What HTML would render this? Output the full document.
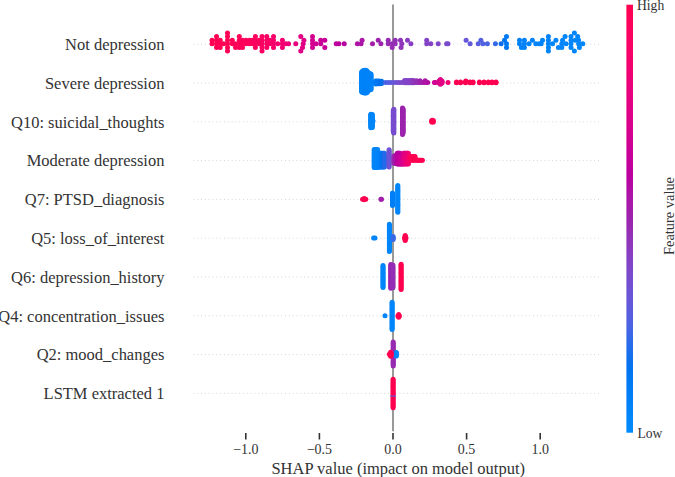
<!DOCTYPE html>
<html><head><meta charset="utf-8"><style>
html,body{margin:0;padding:0;background:#fff;}
svg{display:block;}
text{font-family:"Liberation Serif",serif;fill:#333;}
</style></head><body>
<svg width="675" height="477" viewBox="0 0 675 477">
<defs><linearGradient id="cb" x1="0" y1="0" x2="0" y2="1"><stop offset="0.00" stop-color="#ff0051"/><stop offset="0.05" stop-color="#fe005c"/><stop offset="0.10" stop-color="#f90067"/><stop offset="0.15" stop-color="#f20072"/><stop offset="0.20" stop-color="#e9007c"/><stop offset="0.25" stop-color="#e00086"/><stop offset="0.30" stop-color="#d5008f"/><stop offset="0.35" stop-color="#c80098"/><stop offset="0.40" stop-color="#bb00a0"/><stop offset="0.45" stop-color="#ab15a7"/><stop offset="0.50" stop-color="#9b23ad"/><stop offset="0.55" stop-color="#9135ba"/><stop offset="0.60" stop-color="#8443c6"/><stop offset="0.65" stop-color="#754fd1"/><stop offset="0.70" stop-color="#6359da"/><stop offset="0.75" stop-color="#4b63e3"/><stop offset="0.80" stop-color="#236cea"/><stop offset="0.85" stop-color="#0074f0"/><stop offset="0.90" stop-color="#007cf5"/><stop offset="0.95" stop-color="#0084f9"/><stop offset="1.00" stop-color="#008bfb"/></linearGradient></defs>
<g><line x1="193.45" y1="44.2" x2="599" y2="44.2" stroke="#cccccc" stroke-width="0.9" stroke-dasharray="0.9,2.916"/><line x1="193.45" y1="83.0" x2="599" y2="83.0" stroke="#cccccc" stroke-width="0.9" stroke-dasharray="0.9,2.916"/><line x1="193.45" y1="121.8" x2="599" y2="121.8" stroke="#cccccc" stroke-width="0.9" stroke-dasharray="0.9,2.916"/><line x1="193.45" y1="160.6" x2="599" y2="160.6" stroke="#cccccc" stroke-width="0.9" stroke-dasharray="0.9,2.916"/><line x1="193.45" y1="199.4" x2="599" y2="199.4" stroke="#cccccc" stroke-width="0.9" stroke-dasharray="0.9,2.916"/><line x1="193.45" y1="238.2" x2="599" y2="238.2" stroke="#cccccc" stroke-width="0.9" stroke-dasharray="0.9,2.916"/><line x1="193.45" y1="277.0" x2="599" y2="277.0" stroke="#cccccc" stroke-width="0.9" stroke-dasharray="0.9,2.916"/><line x1="193.45" y1="315.8" x2="599" y2="315.8" stroke="#cccccc" stroke-width="0.9" stroke-dasharray="0.9,2.916"/><line x1="193.45" y1="354.6" x2="599" y2="354.6" stroke="#cccccc" stroke-width="0.9" stroke-dasharray="0.9,2.916"/><line x1="193.45" y1="393.4" x2="599" y2="393.4" stroke="#cccccc" stroke-width="0.9" stroke-dasharray="0.9,2.916"/></g>
<line x1="393" y1="4.4" x2="393" y2="431.3" stroke="#999999" stroke-width="2"/>
<g>
<circle cx="212.0" cy="40.2" r="2.5" fill="#ff0052"/>
<circle cx="212.0" cy="43.8" r="2.5" fill="#ff0052"/>
<circle cx="216.5" cy="36.6" r="2.5" fill="#ff0053"/>
<circle cx="216.5" cy="40.2" r="2.5" fill="#ff0053"/>
<circle cx="216.5" cy="43.8" r="2.5" fill="#ff0053"/>
<circle cx="216.5" cy="47.4" r="2.5" fill="#ff0053"/>
<circle cx="220.2" cy="40.2" r="2.5" fill="#ff0053"/>
<circle cx="220.2" cy="43.8" r="2.5" fill="#ff0053"/>
<circle cx="220.2" cy="47.4" r="2.5" fill="#ff0053"/>
<circle cx="223.5" cy="43.8" r="2.5" fill="#ff0054"/>
<circle cx="227.5" cy="33.0" r="2.5" fill="#ff0055"/>
<circle cx="227.5" cy="36.6" r="2.5" fill="#ff0055"/>
<circle cx="227.5" cy="40.2" r="2.5" fill="#ff0055"/>
<circle cx="227.5" cy="43.8" r="2.5" fill="#ff0055"/>
<circle cx="227.5" cy="47.4" r="2.5" fill="#ff0055"/>
<circle cx="227.5" cy="51.0" r="2.5" fill="#ff0055"/>
<circle cx="232.3" cy="40.2" r="2.5" fill="#ff0056"/>
<circle cx="232.3" cy="43.8" r="2.5" fill="#ff0056"/>
<circle cx="235.5" cy="43.8" r="2.5" fill="#ff0057"/>
<circle cx="235.5" cy="47.4" r="2.5" fill="#ff0057"/>
<circle cx="239.3" cy="36.6" r="2.5" fill="#ff0058"/>
<circle cx="239.3" cy="40.2" r="2.5" fill="#ff0058"/>
<circle cx="239.3" cy="43.8" r="2.5" fill="#ff0058"/>
<circle cx="239.3" cy="47.4" r="2.5" fill="#ff0058"/>
<circle cx="242.5" cy="40.2" r="2.5" fill="#ff0059"/>
<circle cx="242.5" cy="43.8" r="2.5" fill="#ff0059"/>
<circle cx="242.5" cy="47.4" r="2.5" fill="#ff0059"/>
<circle cx="246.0" cy="40.2" r="2.5" fill="#ff005a"/>
<circle cx="246.0" cy="43.8" r="2.5" fill="#ff005a"/>
<circle cx="249.5" cy="40.2" r="2.5" fill="#fe005c"/>
<circle cx="249.5" cy="43.8" r="2.5" fill="#fe005c"/>
<circle cx="252.5" cy="40.2" r="2.5" fill="#fe005d"/>
<circle cx="252.5" cy="43.8" r="2.5" fill="#fe005d"/>
<circle cx="255.4" cy="36.6" r="2.5" fill="#fd005f"/>
<circle cx="255.4" cy="40.2" r="2.5" fill="#fd005f"/>
<circle cx="255.4" cy="43.8" r="2.5" fill="#fd005f"/>
<circle cx="255.4" cy="47.4" r="2.5" fill="#fd005f"/>
<circle cx="259.0" cy="40.2" r="2.5" fill="#fc0060"/>
<circle cx="259.0" cy="43.8" r="2.5" fill="#fc0060"/>
<circle cx="262.0" cy="36.6" r="2.5" fill="#fc0062"/>
<circle cx="262.0" cy="40.2" r="2.5" fill="#fc0062"/>
<circle cx="262.0" cy="43.8" r="2.5" fill="#fc0062"/>
<circle cx="262.0" cy="47.4" r="2.5" fill="#fc0062"/>
<circle cx="262.0" cy="51.0" r="2.5" fill="#fc0062"/>
<circle cx="266.8" cy="36.6" r="2.5" fill="#fa0064"/>
<circle cx="266.8" cy="40.2" r="2.5" fill="#fa0064"/>
<circle cx="266.8" cy="43.8" r="2.5" fill="#fa0064"/>
<circle cx="266.8" cy="47.4" r="2.5" fill="#fa0064"/>
<circle cx="270.0" cy="40.2" r="2.5" fill="#f90067"/>
<circle cx="270.0" cy="43.8" r="2.5" fill="#f90067"/>
<circle cx="273.5" cy="36.6" r="2.5" fill="#f7006a"/>
<circle cx="273.5" cy="40.2" r="2.5" fill="#f7006a"/>
<circle cx="273.5" cy="43.8" r="2.5" fill="#f7006a"/>
<circle cx="273.5" cy="47.4" r="2.5" fill="#f7006a"/>
<circle cx="277.7" cy="43.8" r="2.5" fill="#f4006e"/>
<circle cx="282.4" cy="40.2" r="2.5" fill="#f20072"/>
<circle cx="282.4" cy="43.8" r="2.5" fill="#f20072"/>
<circle cx="282.4" cy="47.4" r="2.5" fill="#f20072"/>
<circle cx="285.7" cy="43.8" r="2.5" fill="#f00074"/>
<circle cx="288.6" cy="43.8" r="2.5" fill="#ed0077"/>
<circle cx="295.8" cy="43.8" r="2.5" fill="#e7007e"/>
<circle cx="300.8" cy="36.6" r="2.5" fill="#e30083"/>
<circle cx="303.9" cy="40.2" r="2.5" fill="#df0086"/>
<circle cx="303.2" cy="43.8" r="2.5" fill="#e00086"/>
<circle cx="302.5" cy="47.4" r="2.5" fill="#e10085"/>
<circle cx="300.8" cy="51.0" r="2.5" fill="#e30083"/>
<circle cx="312.5" cy="36.6" r="2.5" fill="#d30090"/>
<circle cx="312.5" cy="40.2" r="2.5" fill="#d30090"/>
<circle cx="312.5" cy="43.8" r="2.5" fill="#d30090"/>
<circle cx="312.5" cy="47.4" r="2.5" fill="#d30090"/>
<circle cx="316.0" cy="43.8" r="2.5" fill="#cf0093"/>
<circle cx="320.7" cy="40.2" r="2.5" fill="#cb0096"/>
<circle cx="320.7" cy="43.8" r="2.5" fill="#cb0096"/>
<circle cx="324.8" cy="40.2" r="2.5" fill="#c80098"/>
<circle cx="324.8" cy="47.4" r="2.5" fill="#c80098"/>
<circle cx="336.2" cy="43.8" r="2.5" fill="#be009e"/>
<circle cx="338.9" cy="43.8" r="2.5" fill="#bc009f"/>
<circle cx="344.2" cy="43.8" r="2.5" fill="#b802a1"/>
<circle cx="357.4" cy="43.8" r="2.5" fill="#ae12a6"/>
<circle cx="361.1" cy="43.8" r="2.5" fill="#ab15a7"/>
<circle cx="362.1" cy="40.2" r="2.5" fill="#aa16a7"/>
<circle cx="372.5" cy="43.8" r="2.5" fill="#a21eaa"/>
<circle cx="378.2" cy="40.2" r="2.5" fill="#9d21ac"/>
<circle cx="380.9" cy="43.8" r="2.5" fill="#9b23ad"/>
<circle cx="388.2" cy="40.2" r="2.5" fill="#972ab2"/>
<circle cx="388.2" cy="43.8" r="2.5" fill="#972ab2"/>
<circle cx="392.2" cy="43.8" r="2.5" fill="#952eb4"/>
<circle cx="392.2" cy="47.4" r="2.5" fill="#952eb4"/>
<circle cx="395.2" cy="40.2" r="2.5" fill="#9331b6"/>
<circle cx="395.2" cy="43.8" r="2.5" fill="#9331b6"/>
<circle cx="400.5" cy="40.2" r="2.5" fill="#9035ba"/>
<circle cx="401.8" cy="43.8" r="2.5" fill="#8f37bb"/>
<circle cx="401.1" cy="47.4" r="2.5" fill="#9036bb"/>
<circle cx="407.5" cy="40.2" r="2.5" fill="#8b3cc0"/>
<circle cx="410.9" cy="43.8" r="2.5" fill="#883fc3"/>
<circle cx="426.7" cy="40.2" r="2.5" fill="#8443c6"/>
<circle cx="426.7" cy="43.8" r="2.5" fill="#8443c6"/>
<circle cx="430.8" cy="43.8" r="2.5" fill="#8443c6"/>
<circle cx="438.2" cy="43.8" r="2.5" fill="#8046c9"/>
<circle cx="446.6" cy="43.8" r="2.5" fill="#7c4acc"/>
<circle cx="448.0" cy="43.8" r="2.5" fill="#7a4bcd"/>
<circle cx="466.1" cy="40.2" r="2.5" fill="#6757d8"/>
<circle cx="470.1" cy="43.8" r="2.5" fill="#6359da"/>
<circle cx="478.2" cy="43.8" r="2.5" fill="#585edf"/>
<circle cx="480.9" cy="40.2" r="2.5" fill="#5460e0"/>
<circle cx="482.9" cy="43.8" r="2.5" fill="#5161e1"/>
<circle cx="487.4" cy="43.8" r="2.5" fill="#4963e3"/>
<circle cx="495.4" cy="43.8" r="2.5" fill="#3669e8"/>
<circle cx="501.1" cy="43.8" r="2.5" fill="#0d6eec"/>
<circle cx="504.5" cy="40.2" r="2.5" fill="#0075f0"/>
<circle cx="506.5" cy="36.6" r="2.5" fill="#0078f3"/>
<circle cx="506.5" cy="43.8" r="2.5" fill="#0078f3"/>
<circle cx="506.5" cy="47.4" r="2.5" fill="#0078f3"/>
<circle cx="519.5" cy="40.2" r="2.5" fill="#0082f8"/>
<circle cx="519.5" cy="43.8" r="2.5" fill="#0082f8"/>
<circle cx="521.4" cy="47.4" r="2.5" fill="#0082f8"/>
<circle cx="524.4" cy="40.2" r="2.5" fill="#0083f8"/>
<circle cx="524.4" cy="43.8" r="2.5" fill="#0083f8"/>
<circle cx="524.4" cy="47.4" r="2.5" fill="#0083f8"/>
<circle cx="529.1" cy="43.8" r="2.5" fill="#0083f8"/>
<circle cx="532.4" cy="40.2" r="2.5" fill="#0084f9"/>
<circle cx="535.8" cy="43.8" r="2.5" fill="#0084f9"/>
<circle cx="539.2" cy="43.8" r="2.5" fill="#0084f9"/>
<circle cx="542.5" cy="40.2" r="2.5" fill="#0085f9"/>
<circle cx="541.2" cy="43.8" r="2.5" fill="#0084f9"/>
<circle cx="548.4" cy="36.6" r="2.5" fill="#0085f9"/>
<circle cx="548.4" cy="40.2" r="2.5" fill="#0085f9"/>
<circle cx="548.4" cy="43.8" r="2.5" fill="#0085f9"/>
<circle cx="548.4" cy="47.4" r="2.5" fill="#0085f9"/>
<circle cx="548.4" cy="51.0" r="2.5" fill="#0085f9"/>
<circle cx="552.6" cy="43.8" r="2.5" fill="#0086f9"/>
<circle cx="555.9" cy="40.2" r="2.5" fill="#0086f9"/>
<circle cx="558.4" cy="47.4" r="2.5" fill="#0086fa"/>
<circle cx="561.8" cy="43.8" r="2.5" fill="#0086fa"/>
<circle cx="561.8" cy="47.4" r="2.5" fill="#0086fa"/>
<circle cx="562.6" cy="40.2" r="2.5" fill="#0086fa"/>
<circle cx="565.1" cy="36.6" r="2.5" fill="#0086fa"/>
<circle cx="566.0" cy="43.8" r="2.5" fill="#0086fa"/>
<circle cx="571.0" cy="36.6" r="2.5" fill="#0086fa"/>
<circle cx="571.0" cy="40.2" r="2.5" fill="#0086fa"/>
<circle cx="571.0" cy="43.8" r="2.5" fill="#0086fa"/>
<circle cx="571.0" cy="47.4" r="2.5" fill="#0086fa"/>
<circle cx="574.4" cy="33.0" r="2.5" fill="#0086fa"/>
<circle cx="574.4" cy="51.0" r="2.5" fill="#0086fa"/>
<circle cx="575.2" cy="40.2" r="2.5" fill="#0086fa"/>
<circle cx="577.7" cy="36.6" r="2.5" fill="#0086fa"/>
<circle cx="578.6" cy="40.2" r="2.5" fill="#0086fa"/>
<circle cx="578.6" cy="43.8" r="2.5" fill="#0086fa"/>
<circle cx="579.4" cy="47.4" r="2.5" fill="#0086fa"/>
<circle cx="582.8" cy="43.8" r="2.5" fill="#0086fa"/>
<circle cx="361.6" cy="72.0" r="2.5" fill="#0084f9"/>
<circle cx="361.6" cy="73.2" r="2.5" fill="#0084f9"/>
<circle cx="361.6" cy="74.4" r="2.5" fill="#0084f9"/>
<circle cx="361.6" cy="75.5" r="2.5" fill="#0084f9"/>
<circle cx="361.6" cy="76.7" r="2.5" fill="#0084f9"/>
<circle cx="361.6" cy="77.8" r="2.5" fill="#0084f9"/>
<circle cx="361.6" cy="79.0" r="2.5" fill="#0084f9"/>
<circle cx="361.6" cy="80.2" r="2.5" fill="#0084f9"/>
<circle cx="361.6" cy="81.3" r="2.5" fill="#0084f9"/>
<circle cx="361.6" cy="82.5" r="2.5" fill="#0084f9"/>
<circle cx="361.6" cy="83.6" r="2.5" fill="#0084f9"/>
<circle cx="361.6" cy="84.8" r="2.5" fill="#0084f9"/>
<circle cx="361.6" cy="85.9" r="2.5" fill="#0084f9"/>
<circle cx="361.6" cy="87.1" r="2.5" fill="#0084f9"/>
<circle cx="361.6" cy="88.3" r="2.5" fill="#0084f9"/>
<circle cx="361.6" cy="89.4" r="2.5" fill="#0084f9"/>
<circle cx="361.6" cy="90.6" r="2.5" fill="#0084f9"/>
<circle cx="361.6" cy="91.7" r="2.5" fill="#0084f9"/>
<circle cx="362.6" cy="71.1" r="2.5" fill="#0084f9"/>
<circle cx="362.6" cy="72.3" r="2.5" fill="#0084f9"/>
<circle cx="362.6" cy="73.5" r="2.5" fill="#0084f9"/>
<circle cx="362.6" cy="74.7" r="2.5" fill="#0084f9"/>
<circle cx="362.6" cy="75.9" r="2.5" fill="#0084f9"/>
<circle cx="362.6" cy="77.0" r="2.5" fill="#0084f9"/>
<circle cx="362.6" cy="78.2" r="2.5" fill="#0084f9"/>
<circle cx="362.6" cy="79.4" r="2.5" fill="#0084f9"/>
<circle cx="362.6" cy="80.6" r="2.5" fill="#0084f9"/>
<circle cx="362.6" cy="81.8" r="2.5" fill="#0084f9"/>
<circle cx="362.6" cy="83.0" r="2.5" fill="#0084f9"/>
<circle cx="362.6" cy="84.2" r="2.5" fill="#0084f9"/>
<circle cx="362.6" cy="85.3" r="2.5" fill="#0084f9"/>
<circle cx="362.6" cy="86.5" r="2.5" fill="#0084f9"/>
<circle cx="362.6" cy="87.7" r="2.5" fill="#0084f9"/>
<circle cx="362.6" cy="88.9" r="2.5" fill="#0084f9"/>
<circle cx="362.6" cy="90.1" r="2.5" fill="#0084f9"/>
<circle cx="362.6" cy="91.3" r="2.5" fill="#0084f9"/>
<circle cx="362.6" cy="92.5" r="2.5" fill="#0084f9"/>
<circle cx="363.7" cy="70.6" r="2.5" fill="#0084f9"/>
<circle cx="363.7" cy="71.7" r="2.5" fill="#0084f9"/>
<circle cx="363.7" cy="72.9" r="2.5" fill="#0084f9"/>
<circle cx="363.7" cy="74.1" r="2.5" fill="#0084f9"/>
<circle cx="363.7" cy="75.2" r="2.5" fill="#0084f9"/>
<circle cx="363.7" cy="76.4" r="2.5" fill="#0084f9"/>
<circle cx="363.7" cy="77.6" r="2.5" fill="#0084f9"/>
<circle cx="363.7" cy="78.8" r="2.5" fill="#0084f9"/>
<circle cx="363.7" cy="79.9" r="2.5" fill="#0084f9"/>
<circle cx="363.7" cy="81.1" r="2.5" fill="#0084f9"/>
<circle cx="363.7" cy="82.3" r="2.5" fill="#0084f9"/>
<circle cx="363.7" cy="83.5" r="2.5" fill="#0084f9"/>
<circle cx="363.7" cy="84.6" r="2.5" fill="#0084f9"/>
<circle cx="363.7" cy="85.8" r="2.5" fill="#0084f9"/>
<circle cx="363.7" cy="87.0" r="2.5" fill="#0084f9"/>
<circle cx="363.7" cy="88.1" r="2.5" fill="#0084f9"/>
<circle cx="363.7" cy="89.3" r="2.5" fill="#0084f9"/>
<circle cx="363.7" cy="90.5" r="2.5" fill="#0084f9"/>
<circle cx="363.7" cy="91.7" r="2.5" fill="#0084f9"/>
<circle cx="363.7" cy="92.8" r="2.5" fill="#0084f9"/>
<circle cx="364.7" cy="70.2" r="2.5" fill="#0083f8"/>
<circle cx="364.7" cy="71.3" r="2.5" fill="#0083f8"/>
<circle cx="364.7" cy="72.5" r="2.5" fill="#0083f8"/>
<circle cx="364.7" cy="73.6" r="2.5" fill="#0083f8"/>
<circle cx="364.7" cy="74.8" r="2.5" fill="#0083f8"/>
<circle cx="364.7" cy="75.9" r="2.5" fill="#0083f8"/>
<circle cx="364.7" cy="77.0" r="2.5" fill="#0083f8"/>
<circle cx="364.7" cy="78.2" r="2.5" fill="#0083f8"/>
<circle cx="364.7" cy="79.3" r="2.5" fill="#0083f8"/>
<circle cx="364.7" cy="80.5" r="2.5" fill="#0083f8"/>
<circle cx="364.7" cy="81.6" r="2.5" fill="#0083f8"/>
<circle cx="364.7" cy="82.8" r="2.5" fill="#0083f8"/>
<circle cx="364.7" cy="83.9" r="2.5" fill="#0083f8"/>
<circle cx="364.7" cy="85.0" r="2.5" fill="#0083f8"/>
<circle cx="364.7" cy="86.2" r="2.5" fill="#0083f8"/>
<circle cx="364.7" cy="87.3" r="2.5" fill="#0083f8"/>
<circle cx="364.7" cy="88.5" r="2.5" fill="#0083f8"/>
<circle cx="364.7" cy="89.6" r="2.5" fill="#0083f8"/>
<circle cx="364.7" cy="90.8" r="2.5" fill="#0083f8"/>
<circle cx="364.7" cy="91.9" r="2.5" fill="#0083f8"/>
<circle cx="364.7" cy="93.0" r="2.5" fill="#0083f8"/>
<circle cx="365.8" cy="70.3" r="2.5" fill="#0083f8"/>
<circle cx="365.8" cy="71.5" r="2.5" fill="#0083f8"/>
<circle cx="365.8" cy="72.7" r="2.5" fill="#0083f8"/>
<circle cx="365.8" cy="73.9" r="2.5" fill="#0083f8"/>
<circle cx="365.8" cy="75.1" r="2.5" fill="#0083f8"/>
<circle cx="365.8" cy="76.3" r="2.5" fill="#0083f8"/>
<circle cx="365.8" cy="77.5" r="2.5" fill="#0083f8"/>
<circle cx="365.8" cy="78.7" r="2.5" fill="#0083f8"/>
<circle cx="365.8" cy="79.8" r="2.5" fill="#0083f8"/>
<circle cx="365.8" cy="81.0" r="2.5" fill="#0083f8"/>
<circle cx="365.8" cy="82.2" r="2.5" fill="#0083f8"/>
<circle cx="365.8" cy="83.4" r="2.5" fill="#0083f8"/>
<circle cx="365.8" cy="84.6" r="2.5" fill="#0083f8"/>
<circle cx="365.8" cy="85.8" r="2.5" fill="#0083f8"/>
<circle cx="365.8" cy="87.0" r="2.5" fill="#0083f8"/>
<circle cx="365.8" cy="88.2" r="2.5" fill="#0083f8"/>
<circle cx="365.8" cy="89.4" r="2.5" fill="#0083f8"/>
<circle cx="365.8" cy="90.5" r="2.5" fill="#0083f8"/>
<circle cx="365.8" cy="91.7" r="2.5" fill="#0083f8"/>
<circle cx="365.8" cy="92.9" r="2.5" fill="#0083f8"/>
<circle cx="366.8" cy="70.7" r="2.5" fill="#0083f8"/>
<circle cx="366.8" cy="71.8" r="2.5" fill="#0083f8"/>
<circle cx="366.8" cy="73.0" r="2.5" fill="#0083f8"/>
<circle cx="366.8" cy="74.2" r="2.5" fill="#0083f8"/>
<circle cx="366.8" cy="75.3" r="2.5" fill="#0083f8"/>
<circle cx="366.8" cy="76.5" r="2.5" fill="#0083f8"/>
<circle cx="366.8" cy="77.6" r="2.5" fill="#0083f8"/>
<circle cx="366.8" cy="78.8" r="2.5" fill="#0083f8"/>
<circle cx="366.8" cy="79.9" r="2.5" fill="#0083f8"/>
<circle cx="366.8" cy="81.1" r="2.5" fill="#0083f8"/>
<circle cx="366.8" cy="82.3" r="2.5" fill="#0083f8"/>
<circle cx="366.8" cy="83.4" r="2.5" fill="#0083f8"/>
<circle cx="366.8" cy="84.6" r="2.5" fill="#0083f8"/>
<circle cx="366.8" cy="85.7" r="2.5" fill="#0083f8"/>
<circle cx="366.8" cy="86.9" r="2.5" fill="#0083f8"/>
<circle cx="366.8" cy="88.0" r="2.5" fill="#0083f8"/>
<circle cx="366.8" cy="89.2" r="2.5" fill="#0083f8"/>
<circle cx="366.8" cy="90.3" r="2.5" fill="#0083f8"/>
<circle cx="366.8" cy="91.5" r="2.5" fill="#0083f8"/>
<circle cx="366.8" cy="92.7" r="2.5" fill="#0083f8"/>
<circle cx="367.9" cy="71.9" r="2.5" fill="#0083f8"/>
<circle cx="367.9" cy="73.0" r="2.5" fill="#0083f8"/>
<circle cx="367.9" cy="74.2" r="2.5" fill="#0083f8"/>
<circle cx="367.9" cy="75.3" r="2.5" fill="#0083f8"/>
<circle cx="367.9" cy="76.5" r="2.5" fill="#0083f8"/>
<circle cx="367.9" cy="77.7" r="2.5" fill="#0083f8"/>
<circle cx="367.9" cy="78.8" r="2.5" fill="#0083f8"/>
<circle cx="367.9" cy="80.0" r="2.5" fill="#0083f8"/>
<circle cx="367.9" cy="81.1" r="2.5" fill="#0083f8"/>
<circle cx="367.9" cy="82.3" r="2.5" fill="#0083f8"/>
<circle cx="367.9" cy="83.5" r="2.5" fill="#0083f8"/>
<circle cx="367.9" cy="84.6" r="2.5" fill="#0083f8"/>
<circle cx="367.9" cy="85.8" r="2.5" fill="#0083f8"/>
<circle cx="367.9" cy="86.9" r="2.5" fill="#0083f8"/>
<circle cx="367.9" cy="88.1" r="2.5" fill="#0083f8"/>
<circle cx="367.9" cy="89.3" r="2.5" fill="#0083f8"/>
<circle cx="367.9" cy="90.4" r="2.5" fill="#0083f8"/>
<circle cx="367.9" cy="91.6" r="2.5" fill="#0083f8"/>
<circle cx="368.9" cy="73.6" r="2.5" fill="#0083f8"/>
<circle cx="368.9" cy="74.8" r="2.5" fill="#0083f8"/>
<circle cx="368.9" cy="75.9" r="2.5" fill="#0083f8"/>
<circle cx="368.9" cy="77.1" r="2.5" fill="#0083f8"/>
<circle cx="368.9" cy="78.3" r="2.5" fill="#0083f8"/>
<circle cx="368.9" cy="79.4" r="2.5" fill="#0083f8"/>
<circle cx="368.9" cy="80.6" r="2.5" fill="#0083f8"/>
<circle cx="368.9" cy="81.8" r="2.5" fill="#0083f8"/>
<circle cx="368.9" cy="82.9" r="2.5" fill="#0083f8"/>
<circle cx="368.9" cy="84.1" r="2.5" fill="#0083f8"/>
<circle cx="368.9" cy="85.3" r="2.5" fill="#0083f8"/>
<circle cx="368.9" cy="86.4" r="2.5" fill="#0083f8"/>
<circle cx="368.9" cy="87.6" r="2.5" fill="#0083f8"/>
<circle cx="368.9" cy="88.8" r="2.5" fill="#0083f8"/>
<circle cx="368.9" cy="89.9" r="2.5" fill="#0083f8"/>
<circle cx="370.0" cy="73.8" r="2.5" fill="#0083f8"/>
<circle cx="370.0" cy="74.9" r="2.5" fill="#0083f8"/>
<circle cx="370.0" cy="76.1" r="2.5" fill="#0083f8"/>
<circle cx="370.0" cy="77.2" r="2.5" fill="#0083f8"/>
<circle cx="370.0" cy="78.4" r="2.5" fill="#0083f8"/>
<circle cx="370.0" cy="79.5" r="2.5" fill="#0083f8"/>
<circle cx="370.0" cy="80.6" r="2.5" fill="#0083f8"/>
<circle cx="370.0" cy="81.8" r="2.5" fill="#0083f8"/>
<circle cx="370.0" cy="82.9" r="2.5" fill="#0083f8"/>
<circle cx="370.0" cy="84.1" r="2.5" fill="#0083f8"/>
<circle cx="370.0" cy="85.2" r="2.5" fill="#0083f8"/>
<circle cx="370.0" cy="86.3" r="2.5" fill="#0083f8"/>
<circle cx="370.0" cy="87.5" r="2.5" fill="#0083f8"/>
<circle cx="370.0" cy="88.6" r="2.5" fill="#0083f8"/>
<circle cx="370.0" cy="89.8" r="2.5" fill="#0083f8"/>
<circle cx="371.0" cy="74.0" r="2.5" fill="#0082f8"/>
<circle cx="371.0" cy="75.2" r="2.5" fill="#0082f8"/>
<circle cx="371.0" cy="76.4" r="2.5" fill="#0082f8"/>
<circle cx="371.0" cy="77.6" r="2.5" fill="#0082f8"/>
<circle cx="371.0" cy="78.8" r="2.5" fill="#0082f8"/>
<circle cx="371.0" cy="80.0" r="2.5" fill="#0082f8"/>
<circle cx="371.0" cy="81.2" r="2.5" fill="#0082f8"/>
<circle cx="371.0" cy="82.4" r="2.5" fill="#0082f8"/>
<circle cx="371.0" cy="83.6" r="2.5" fill="#0082f8"/>
<circle cx="371.0" cy="84.8" r="2.5" fill="#0082f8"/>
<circle cx="371.0" cy="86.0" r="2.5" fill="#0082f8"/>
<circle cx="371.0" cy="87.2" r="2.5" fill="#0082f8"/>
<circle cx="371.0" cy="88.4" r="2.5" fill="#0082f8"/>
<circle cx="371.0" cy="89.6" r="2.5" fill="#0082f8"/>
<circle cx="375.5" cy="81.0" r="2.5" fill="#007cf5"/>
<circle cx="375.5" cy="82.0" r="2.5" fill="#007cf5"/>
<circle cx="375.5" cy="82.9" r="2.5" fill="#007cf5"/>
<circle cx="375.5" cy="83.9" r="2.5" fill="#007cf5"/>
<circle cx="377.0" cy="81.1" r="2.5" fill="#007af4"/>
<circle cx="377.0" cy="82.0" r="2.5" fill="#007af4"/>
<circle cx="377.0" cy="82.9" r="2.5" fill="#007af4"/>
<circle cx="377.0" cy="83.8" r="2.5" fill="#007af4"/>
<circle cx="378.5" cy="81.1" r="2.5" fill="#0077f2"/>
<circle cx="378.5" cy="82.0" r="2.5" fill="#0077f2"/>
<circle cx="378.5" cy="82.9" r="2.5" fill="#0077f2"/>
<circle cx="378.5" cy="83.8" r="2.5" fill="#0077f2"/>
<circle cx="380.0" cy="81.2" r="2.5" fill="#0074f0"/>
<circle cx="380.0" cy="82.1" r="2.5" fill="#0074f0"/>
<circle cx="380.0" cy="82.9" r="2.5" fill="#0074f0"/>
<circle cx="380.0" cy="83.7" r="2.5" fill="#0074f0"/>
<circle cx="381.5" cy="81.3" r="2.5" fill="#0070ed"/>
<circle cx="381.5" cy="82.5" r="2.5" fill="#0070ed"/>
<circle cx="381.5" cy="83.6" r="2.5" fill="#0070ed"/>
<circle cx="385.5" cy="82.4" r="2.5" fill="#4764e4"/>
<circle cx="388.2" cy="82.4" r="2.5" fill="#5260e1"/>
<circle cx="390.9" cy="82.4" r="2.5" fill="#5c5cdd"/>
<circle cx="393.6" cy="82.4" r="2.5" fill="#6558d9"/>
<circle cx="396.3" cy="82.4" r="2.5" fill="#6f52d4"/>
<circle cx="399.0" cy="82.4" r="2.5" fill="#784ccf"/>
<circle cx="401.7" cy="82.4" r="2.5" fill="#7d49cb"/>
<circle cx="404.6" cy="80.6" r="2.5" fill="#7f47c9"/>
<circle cx="404.6" cy="82.7" r="2.5" fill="#7f47c9"/>
<circle cx="406.4" cy="80.6" r="2.5" fill="#8145c8"/>
<circle cx="406.4" cy="82.7" r="2.5" fill="#8145c8"/>
<circle cx="408.2" cy="80.6" r="2.5" fill="#8344c7"/>
<circle cx="408.2" cy="82.7" r="2.5" fill="#8344c7"/>
<circle cx="410.0" cy="80.6" r="2.5" fill="#8443c6"/>
<circle cx="410.0" cy="82.7" r="2.5" fill="#8443c6"/>
<circle cx="411.8" cy="80.6" r="2.5" fill="#893ec2"/>
<circle cx="411.8" cy="82.7" r="2.5" fill="#893ec2"/>
<circle cx="413.6" cy="80.6" r="2.5" fill="#8d39bd"/>
<circle cx="413.6" cy="82.7" r="2.5" fill="#8d39bd"/>
<circle cx="414.5" cy="82.6" r="2.5" fill="#8f36bb"/>
<circle cx="416.7" cy="82.6" r="2.5" fill="#942fb5"/>
<circle cx="418.9" cy="82.6" r="2.5" fill="#9927b0"/>
<circle cx="421.1" cy="82.6" r="2.5" fill="#9f20ac"/>
<circle cx="423.3" cy="82.6" r="2.5" fill="#a61ba9"/>
<circle cx="425.5" cy="82.6" r="2.5" fill="#ad13a6"/>
<circle cx="427.7" cy="82.6" r="2.5" fill="#b409a3"/>
<circle cx="416.5" cy="80.7" r="2.5" fill="#9430b6"/>
<circle cx="420.0" cy="80.7" r="2.5" fill="#9b23ad"/>
<circle cx="425.2" cy="80.7" r="2.5" fill="#ac15a6"/>
<circle cx="434.4" cy="82.6" r="2.5" fill="#ce0094"/>
<circle cx="435.3" cy="82.6" r="2.5" fill="#d10092"/>
<circle cx="440.4" cy="79.5" r="2.5" fill="#de0087"/>
<circle cx="440.4" cy="80.7" r="2.5" fill="#de0087"/>
<circle cx="440.4" cy="81.8" r="2.5" fill="#de0087"/>
<circle cx="440.4" cy="83.0" r="2.5" fill="#de0087"/>
<circle cx="440.4" cy="84.2" r="2.5" fill="#de0087"/>
<circle cx="439.0" cy="81.0" r="2.5" fill="#db008a"/>
<circle cx="439.0" cy="82.0" r="2.5" fill="#db008a"/>
<circle cx="439.0" cy="83.0" r="2.5" fill="#db008a"/>
<circle cx="442.0" cy="81.0" r="2.5" fill="#e30083"/>
<circle cx="442.0" cy="82.0" r="2.5" fill="#e30083"/>
<circle cx="442.0" cy="83.0" r="2.5" fill="#e30083"/>
<circle cx="448.0" cy="82.4" r="2.5" fill="#f20072"/>
<circle cx="456.5" cy="81.9" r="2.5" fill="#ff0051"/>
<circle cx="456.5" cy="82.7" r="2.5" fill="#ff0051"/>
<circle cx="460.5" cy="81.9" r="2.5" fill="#ff0051"/>
<circle cx="460.5" cy="82.7" r="2.5" fill="#ff0051"/>
<circle cx="465.5" cy="81.9" r="2.5" fill="#ff0051"/>
<circle cx="465.5" cy="82.7" r="2.5" fill="#ff0051"/>
<circle cx="470.0" cy="81.9" r="2.5" fill="#ff0051"/>
<circle cx="470.0" cy="82.7" r="2.5" fill="#ff0051"/>
<circle cx="473.0" cy="81.9" r="2.5" fill="#ff0051"/>
<circle cx="473.0" cy="82.7" r="2.5" fill="#ff0051"/>
<circle cx="465.8" cy="80.9" r="2.5" fill="#ff0051"/>
<circle cx="479.5" cy="81.9" r="2.5" fill="#ff0051"/>
<circle cx="479.5" cy="82.7" r="2.5" fill="#ff0051"/>
<circle cx="484.0" cy="81.9" r="2.5" fill="#ff0051"/>
<circle cx="484.0" cy="82.7" r="2.5" fill="#ff0051"/>
<circle cx="488.3" cy="81.9" r="2.5" fill="#ff0051"/>
<circle cx="488.3" cy="82.7" r="2.5" fill="#ff0051"/>
<circle cx="492.0" cy="81.9" r="2.5" fill="#ff0051"/>
<circle cx="492.0" cy="82.7" r="2.5" fill="#ff0051"/>
<circle cx="496.0" cy="81.9" r="2.5" fill="#ff0051"/>
<circle cx="496.0" cy="82.7" r="2.5" fill="#ff0051"/>
<circle cx="370.8" cy="114.2" r="2.5" fill="#0085f9"/>
<circle cx="370.8" cy="115.3" r="2.5" fill="#0085f9"/>
<circle cx="370.8" cy="116.5" r="2.5" fill="#0085f9"/>
<circle cx="370.8" cy="117.6" r="2.5" fill="#0085f9"/>
<circle cx="370.8" cy="118.7" r="2.5" fill="#0085f9"/>
<circle cx="370.8" cy="119.8" r="2.5" fill="#0085f9"/>
<circle cx="370.8" cy="120.9" r="2.5" fill="#0085f9"/>
<circle cx="370.8" cy="122.1" r="2.5" fill="#0085f9"/>
<circle cx="370.8" cy="123.2" r="2.5" fill="#0085f9"/>
<circle cx="370.8" cy="124.3" r="2.5" fill="#0085f9"/>
<circle cx="370.8" cy="125.4" r="2.5" fill="#0085f9"/>
<circle cx="370.8" cy="126.6" r="2.5" fill="#0085f9"/>
<circle cx="370.8" cy="127.7" r="2.5" fill="#0085f9"/>
<circle cx="372.3" cy="114.5" r="2.5" fill="#0085f9"/>
<circle cx="372.3" cy="115.7" r="2.5" fill="#0085f9"/>
<circle cx="372.3" cy="116.9" r="2.5" fill="#0085f9"/>
<circle cx="372.3" cy="118.0" r="2.5" fill="#0085f9"/>
<circle cx="372.3" cy="119.2" r="2.5" fill="#0085f9"/>
<circle cx="372.3" cy="120.4" r="2.5" fill="#0085f9"/>
<circle cx="372.3" cy="121.6" r="2.5" fill="#0085f9"/>
<circle cx="372.3" cy="122.8" r="2.5" fill="#0085f9"/>
<circle cx="372.3" cy="124.0" r="2.5" fill="#0085f9"/>
<circle cx="372.3" cy="125.1" r="2.5" fill="#0085f9"/>
<circle cx="372.3" cy="126.3" r="2.5" fill="#0085f9"/>
<circle cx="372.3" cy="127.5" r="2.5" fill="#0085f9"/>
<circle cx="370.5" cy="121.0" r="2.5" fill="#0085f9"/>
<circle cx="373.0" cy="121.0" r="2.5" fill="#0085f9"/>
<circle cx="393.8" cy="109.2" r="2.5" fill="#784ccf"/>
<circle cx="393.8" cy="110.4" r="2.5" fill="#784ccf"/>
<circle cx="393.8" cy="111.6" r="2.5" fill="#784ccf"/>
<circle cx="393.8" cy="112.8" r="2.5" fill="#784ccf"/>
<circle cx="393.8" cy="114.0" r="2.5" fill="#784ccf"/>
<circle cx="393.8" cy="115.2" r="2.5" fill="#784ccf"/>
<circle cx="393.8" cy="116.4" r="2.5" fill="#784ccf"/>
<circle cx="393.8" cy="117.6" r="2.5" fill="#784ccf"/>
<circle cx="393.8" cy="118.8" r="2.5" fill="#784ccf"/>
<circle cx="393.8" cy="120.0" r="2.5" fill="#784ccf"/>
<circle cx="393.8" cy="121.2" r="2.5" fill="#784ccf"/>
<circle cx="393.8" cy="122.3" r="2.5" fill="#784ccf"/>
<circle cx="393.8" cy="123.5" r="2.5" fill="#784ccf"/>
<circle cx="393.8" cy="124.7" r="2.5" fill="#784ccf"/>
<circle cx="393.8" cy="125.9" r="2.5" fill="#784ccf"/>
<circle cx="393.8" cy="127.1" r="2.5" fill="#784ccf"/>
<circle cx="393.8" cy="128.3" r="2.5" fill="#784ccf"/>
<circle cx="393.8" cy="129.5" r="2.5" fill="#784ccf"/>
<circle cx="393.8" cy="130.7" r="2.5" fill="#784ccf"/>
<circle cx="393.8" cy="131.9" r="2.5" fill="#784ccf"/>
<circle cx="393.8" cy="133.1" r="2.5" fill="#784ccf"/>
<circle cx="393.3" cy="110.5" r="2.5" fill="#784ccf"/>
<circle cx="393.3" cy="111.7" r="2.5" fill="#784ccf"/>
<circle cx="393.3" cy="112.8" r="2.5" fill="#784ccf"/>
<circle cx="393.3" cy="114.0" r="2.5" fill="#784ccf"/>
<circle cx="393.3" cy="115.2" r="2.5" fill="#784ccf"/>
<circle cx="393.3" cy="116.3" r="2.5" fill="#784ccf"/>
<circle cx="393.3" cy="117.5" r="2.5" fill="#784ccf"/>
<circle cx="393.3" cy="118.7" r="2.5" fill="#784ccf"/>
<circle cx="393.3" cy="119.8" r="2.5" fill="#784ccf"/>
<circle cx="393.3" cy="121.0" r="2.5" fill="#784ccf"/>
<circle cx="393.3" cy="122.2" r="2.5" fill="#784ccf"/>
<circle cx="393.3" cy="123.3" r="2.5" fill="#784ccf"/>
<circle cx="393.3" cy="124.5" r="2.5" fill="#784ccf"/>
<circle cx="393.3" cy="125.7" r="2.5" fill="#784ccf"/>
<circle cx="393.3" cy="126.8" r="2.5" fill="#784ccf"/>
<circle cx="393.3" cy="128.0" r="2.5" fill="#784ccf"/>
<circle cx="393.3" cy="129.2" r="2.5" fill="#784ccf"/>
<circle cx="393.3" cy="130.3" r="2.5" fill="#784ccf"/>
<circle cx="393.3" cy="131.5" r="2.5" fill="#784ccf"/>
<circle cx="402.5" cy="107.9" r="2.5" fill="#9b23ad"/>
<circle cx="402.5" cy="109.1" r="2.5" fill="#9b23ad"/>
<circle cx="402.5" cy="110.2" r="2.5" fill="#9b23ad"/>
<circle cx="402.5" cy="111.4" r="2.5" fill="#9b23ad"/>
<circle cx="402.5" cy="112.5" r="2.5" fill="#9b23ad"/>
<circle cx="402.5" cy="113.7" r="2.5" fill="#9b23ad"/>
<circle cx="402.5" cy="114.8" r="2.5" fill="#9b23ad"/>
<circle cx="402.5" cy="116.0" r="2.5" fill="#9b23ad"/>
<circle cx="402.5" cy="117.1" r="2.5" fill="#9b23ad"/>
<circle cx="402.5" cy="118.3" r="2.5" fill="#9b23ad"/>
<circle cx="402.5" cy="119.4" r="2.5" fill="#9b23ad"/>
<circle cx="402.5" cy="120.6" r="2.5" fill="#9b23ad"/>
<circle cx="402.5" cy="121.7" r="2.5" fill="#9b23ad"/>
<circle cx="402.5" cy="122.9" r="2.5" fill="#9b23ad"/>
<circle cx="402.5" cy="124.0" r="2.5" fill="#9b23ad"/>
<circle cx="402.5" cy="125.2" r="2.5" fill="#9b23ad"/>
<circle cx="402.5" cy="126.3" r="2.5" fill="#9b23ad"/>
<circle cx="402.5" cy="127.5" r="2.5" fill="#9b23ad"/>
<circle cx="402.5" cy="128.6" r="2.5" fill="#9b23ad"/>
<circle cx="402.5" cy="129.8" r="2.5" fill="#9b23ad"/>
<circle cx="402.5" cy="130.9" r="2.5" fill="#9b23ad"/>
<circle cx="402.5" cy="132.1" r="2.5" fill="#9b23ad"/>
<circle cx="402.5" cy="133.2" r="2.5" fill="#9b23ad"/>
<circle cx="402.5" cy="134.4" r="2.5" fill="#9b23ad"/>
<circle cx="403.1" cy="109.0" r="2.5" fill="#9b23ad"/>
<circle cx="403.1" cy="110.2" r="2.5" fill="#9b23ad"/>
<circle cx="403.1" cy="111.4" r="2.5" fill="#9b23ad"/>
<circle cx="403.1" cy="112.6" r="2.5" fill="#9b23ad"/>
<circle cx="403.1" cy="113.8" r="2.5" fill="#9b23ad"/>
<circle cx="403.1" cy="115.0" r="2.5" fill="#9b23ad"/>
<circle cx="403.1" cy="116.2" r="2.5" fill="#9b23ad"/>
<circle cx="403.1" cy="117.4" r="2.5" fill="#9b23ad"/>
<circle cx="403.1" cy="118.6" r="2.5" fill="#9b23ad"/>
<circle cx="403.1" cy="119.8" r="2.5" fill="#9b23ad"/>
<circle cx="403.1" cy="121.0" r="2.5" fill="#9b23ad"/>
<circle cx="403.1" cy="122.2" r="2.5" fill="#9b23ad"/>
<circle cx="403.1" cy="123.4" r="2.5" fill="#9b23ad"/>
<circle cx="403.1" cy="124.6" r="2.5" fill="#9b23ad"/>
<circle cx="403.1" cy="125.8" r="2.5" fill="#9b23ad"/>
<circle cx="403.1" cy="127.0" r="2.5" fill="#9b23ad"/>
<circle cx="403.1" cy="128.2" r="2.5" fill="#9b23ad"/>
<circle cx="403.1" cy="129.4" r="2.5" fill="#9b23ad"/>
<circle cx="403.1" cy="130.6" r="2.5" fill="#9b23ad"/>
<circle cx="403.1" cy="131.8" r="2.5" fill="#9b23ad"/>
<circle cx="403.1" cy="133.0" r="2.5" fill="#9b23ad"/>
<circle cx="432.5" cy="121.3" r="3.5" fill="#ff0051"/>
<circle cx="374.2" cy="149.5" r="2.5" fill="#0086f9"/>
<circle cx="374.2" cy="150.7" r="2.5" fill="#0086f9"/>
<circle cx="374.2" cy="151.9" r="2.5" fill="#0086f9"/>
<circle cx="374.2" cy="153.1" r="2.5" fill="#0086f9"/>
<circle cx="374.2" cy="154.3" r="2.5" fill="#0086f9"/>
<circle cx="374.2" cy="155.5" r="2.5" fill="#0086f9"/>
<circle cx="374.2" cy="156.7" r="2.5" fill="#0086f9"/>
<circle cx="374.2" cy="157.9" r="2.5" fill="#0086f9"/>
<circle cx="374.2" cy="159.0" r="2.5" fill="#0086f9"/>
<circle cx="374.2" cy="160.2" r="2.5" fill="#0086f9"/>
<circle cx="374.2" cy="161.4" r="2.5" fill="#0086f9"/>
<circle cx="374.2" cy="162.6" r="2.5" fill="#0086f9"/>
<circle cx="374.2" cy="163.8" r="2.5" fill="#0086f9"/>
<circle cx="374.2" cy="165.0" r="2.5" fill="#0086f9"/>
<circle cx="374.2" cy="166.2" r="2.5" fill="#0086f9"/>
<circle cx="374.2" cy="167.4" r="2.5" fill="#0086f9"/>
<circle cx="375.3" cy="149.5" r="2.5" fill="#0086f9"/>
<circle cx="375.3" cy="150.7" r="2.5" fill="#0086f9"/>
<circle cx="375.3" cy="151.9" r="2.5" fill="#0086f9"/>
<circle cx="375.3" cy="153.1" r="2.5" fill="#0086f9"/>
<circle cx="375.3" cy="154.3" r="2.5" fill="#0086f9"/>
<circle cx="375.3" cy="155.5" r="2.5" fill="#0086f9"/>
<circle cx="375.3" cy="156.7" r="2.5" fill="#0086f9"/>
<circle cx="375.3" cy="157.9" r="2.5" fill="#0086f9"/>
<circle cx="375.3" cy="159.0" r="2.5" fill="#0086f9"/>
<circle cx="375.3" cy="160.2" r="2.5" fill="#0086f9"/>
<circle cx="375.3" cy="161.4" r="2.5" fill="#0086f9"/>
<circle cx="375.3" cy="162.6" r="2.5" fill="#0086f9"/>
<circle cx="375.3" cy="163.8" r="2.5" fill="#0086f9"/>
<circle cx="375.3" cy="165.0" r="2.5" fill="#0086f9"/>
<circle cx="375.3" cy="166.2" r="2.5" fill="#0086f9"/>
<circle cx="375.3" cy="167.4" r="2.5" fill="#0086f9"/>
<circle cx="376.5" cy="149.5" r="2.5" fill="#0085f9"/>
<circle cx="376.5" cy="150.7" r="2.5" fill="#0085f9"/>
<circle cx="376.5" cy="151.9" r="2.5" fill="#0085f9"/>
<circle cx="376.5" cy="153.1" r="2.5" fill="#0085f9"/>
<circle cx="376.5" cy="154.3" r="2.5" fill="#0085f9"/>
<circle cx="376.5" cy="155.5" r="2.5" fill="#0085f9"/>
<circle cx="376.5" cy="156.7" r="2.5" fill="#0085f9"/>
<circle cx="376.5" cy="157.9" r="2.5" fill="#0085f9"/>
<circle cx="376.5" cy="159.0" r="2.5" fill="#0085f9"/>
<circle cx="376.5" cy="160.2" r="2.5" fill="#0085f9"/>
<circle cx="376.5" cy="161.4" r="2.5" fill="#0085f9"/>
<circle cx="376.5" cy="162.6" r="2.5" fill="#0085f9"/>
<circle cx="376.5" cy="163.8" r="2.5" fill="#0085f9"/>
<circle cx="376.5" cy="165.0" r="2.5" fill="#0085f9"/>
<circle cx="376.5" cy="166.2" r="2.5" fill="#0085f9"/>
<circle cx="376.5" cy="167.4" r="2.5" fill="#0085f9"/>
<circle cx="377.6" cy="149.5" r="2.5" fill="#0085f9"/>
<circle cx="377.6" cy="150.7" r="2.5" fill="#0085f9"/>
<circle cx="377.6" cy="151.9" r="2.5" fill="#0085f9"/>
<circle cx="377.6" cy="153.1" r="2.5" fill="#0085f9"/>
<circle cx="377.6" cy="154.3" r="2.5" fill="#0085f9"/>
<circle cx="377.6" cy="155.5" r="2.5" fill="#0085f9"/>
<circle cx="377.6" cy="156.7" r="2.5" fill="#0085f9"/>
<circle cx="377.6" cy="157.9" r="2.5" fill="#0085f9"/>
<circle cx="377.6" cy="159.0" r="2.5" fill="#0085f9"/>
<circle cx="377.6" cy="160.2" r="2.5" fill="#0085f9"/>
<circle cx="377.6" cy="161.4" r="2.5" fill="#0085f9"/>
<circle cx="377.6" cy="162.6" r="2.5" fill="#0085f9"/>
<circle cx="377.6" cy="163.8" r="2.5" fill="#0085f9"/>
<circle cx="377.6" cy="165.0" r="2.5" fill="#0085f9"/>
<circle cx="377.6" cy="166.2" r="2.5" fill="#0085f9"/>
<circle cx="377.6" cy="167.4" r="2.5" fill="#0085f9"/>
<circle cx="378.2" cy="153.2" r="2.5" fill="#0085f9"/>
<circle cx="378.2" cy="154.3" r="2.5" fill="#0085f9"/>
<circle cx="378.2" cy="155.5" r="2.5" fill="#0085f9"/>
<circle cx="378.2" cy="156.6" r="2.5" fill="#0085f9"/>
<circle cx="378.2" cy="157.8" r="2.5" fill="#0085f9"/>
<circle cx="378.2" cy="158.9" r="2.5" fill="#0085f9"/>
<circle cx="378.2" cy="160.1" r="2.5" fill="#0085f9"/>
<circle cx="378.2" cy="161.2" r="2.5" fill="#0085f9"/>
<circle cx="378.2" cy="162.4" r="2.5" fill="#0085f9"/>
<circle cx="378.2" cy="163.6" r="2.5" fill="#0085f9"/>
<circle cx="378.2" cy="164.7" r="2.5" fill="#0085f9"/>
<circle cx="378.2" cy="165.8" r="2.5" fill="#0085f9"/>
<circle cx="378.2" cy="167.0" r="2.5" fill="#0085f9"/>
<circle cx="379.2" cy="153.2" r="2.5" fill="#0083f8"/>
<circle cx="379.2" cy="154.3" r="2.5" fill="#0083f8"/>
<circle cx="379.2" cy="155.5" r="2.5" fill="#0083f8"/>
<circle cx="379.2" cy="156.6" r="2.5" fill="#0083f8"/>
<circle cx="379.2" cy="157.8" r="2.5" fill="#0083f8"/>
<circle cx="379.2" cy="158.9" r="2.5" fill="#0083f8"/>
<circle cx="379.2" cy="160.1" r="2.5" fill="#0083f8"/>
<circle cx="379.2" cy="161.2" r="2.5" fill="#0083f8"/>
<circle cx="379.2" cy="162.4" r="2.5" fill="#0083f8"/>
<circle cx="379.2" cy="163.6" r="2.5" fill="#0083f8"/>
<circle cx="379.2" cy="164.7" r="2.5" fill="#0083f8"/>
<circle cx="379.2" cy="165.8" r="2.5" fill="#0083f8"/>
<circle cx="379.2" cy="167.0" r="2.5" fill="#0083f8"/>
<circle cx="380.3" cy="153.2" r="2.5" fill="#0081f7"/>
<circle cx="380.3" cy="154.3" r="2.5" fill="#0081f7"/>
<circle cx="380.3" cy="155.5" r="2.5" fill="#0081f7"/>
<circle cx="380.3" cy="156.6" r="2.5" fill="#0081f7"/>
<circle cx="380.3" cy="157.8" r="2.5" fill="#0081f7"/>
<circle cx="380.3" cy="158.9" r="2.5" fill="#0081f7"/>
<circle cx="380.3" cy="160.1" r="2.5" fill="#0081f7"/>
<circle cx="380.3" cy="161.2" r="2.5" fill="#0081f7"/>
<circle cx="380.3" cy="162.4" r="2.5" fill="#0081f7"/>
<circle cx="380.3" cy="163.6" r="2.5" fill="#0081f7"/>
<circle cx="380.3" cy="164.7" r="2.5" fill="#0081f7"/>
<circle cx="380.3" cy="165.8" r="2.5" fill="#0081f7"/>
<circle cx="380.3" cy="167.0" r="2.5" fill="#0081f7"/>
<circle cx="381.3" cy="153.2" r="2.5" fill="#007ef6"/>
<circle cx="381.3" cy="154.3" r="2.5" fill="#007ef6"/>
<circle cx="381.3" cy="155.5" r="2.5" fill="#007ef6"/>
<circle cx="381.3" cy="156.6" r="2.5" fill="#007ef6"/>
<circle cx="381.3" cy="157.8" r="2.5" fill="#007ef6"/>
<circle cx="381.3" cy="158.9" r="2.5" fill="#007ef6"/>
<circle cx="381.3" cy="160.1" r="2.5" fill="#007ef6"/>
<circle cx="381.3" cy="161.2" r="2.5" fill="#007ef6"/>
<circle cx="381.3" cy="162.4" r="2.5" fill="#007ef6"/>
<circle cx="381.3" cy="163.6" r="2.5" fill="#007ef6"/>
<circle cx="381.3" cy="164.7" r="2.5" fill="#007ef6"/>
<circle cx="381.3" cy="165.8" r="2.5" fill="#007ef6"/>
<circle cx="381.3" cy="167.0" r="2.5" fill="#007ef6"/>
<circle cx="382.3" cy="153.2" r="2.5" fill="#0078f3"/>
<circle cx="382.3" cy="154.3" r="2.5" fill="#0078f3"/>
<circle cx="382.3" cy="155.5" r="2.5" fill="#0078f3"/>
<circle cx="382.3" cy="156.6" r="2.5" fill="#0078f3"/>
<circle cx="382.3" cy="157.8" r="2.5" fill="#0078f3"/>
<circle cx="382.3" cy="158.9" r="2.5" fill="#0078f3"/>
<circle cx="382.3" cy="160.1" r="2.5" fill="#0078f3"/>
<circle cx="382.3" cy="161.2" r="2.5" fill="#0078f3"/>
<circle cx="382.3" cy="162.4" r="2.5" fill="#0078f3"/>
<circle cx="382.3" cy="163.6" r="2.5" fill="#0078f3"/>
<circle cx="382.3" cy="164.7" r="2.5" fill="#0078f3"/>
<circle cx="382.3" cy="165.8" r="2.5" fill="#0078f3"/>
<circle cx="382.3" cy="167.0" r="2.5" fill="#0078f3"/>
<circle cx="383.4" cy="153.2" r="2.5" fill="#0072ef"/>
<circle cx="383.4" cy="154.3" r="2.5" fill="#0072ef"/>
<circle cx="383.4" cy="155.5" r="2.5" fill="#0072ef"/>
<circle cx="383.4" cy="156.6" r="2.5" fill="#0072ef"/>
<circle cx="383.4" cy="157.8" r="2.5" fill="#0072ef"/>
<circle cx="383.4" cy="158.9" r="2.5" fill="#0072ef"/>
<circle cx="383.4" cy="160.1" r="2.5" fill="#0072ef"/>
<circle cx="383.4" cy="161.2" r="2.5" fill="#0072ef"/>
<circle cx="383.4" cy="162.4" r="2.5" fill="#0072ef"/>
<circle cx="383.4" cy="163.6" r="2.5" fill="#0072ef"/>
<circle cx="383.4" cy="164.7" r="2.5" fill="#0072ef"/>
<circle cx="383.4" cy="165.8" r="2.5" fill="#0072ef"/>
<circle cx="383.4" cy="167.0" r="2.5" fill="#0072ef"/>
<circle cx="384.4" cy="153.2" r="2.5" fill="#226cea"/>
<circle cx="384.4" cy="154.3" r="2.5" fill="#226cea"/>
<circle cx="384.4" cy="155.5" r="2.5" fill="#226cea"/>
<circle cx="384.4" cy="156.6" r="2.5" fill="#226cea"/>
<circle cx="384.4" cy="157.8" r="2.5" fill="#226cea"/>
<circle cx="384.4" cy="158.9" r="2.5" fill="#226cea"/>
<circle cx="384.4" cy="160.1" r="2.5" fill="#226cea"/>
<circle cx="384.4" cy="161.2" r="2.5" fill="#226cea"/>
<circle cx="384.4" cy="162.4" r="2.5" fill="#226cea"/>
<circle cx="384.4" cy="163.6" r="2.5" fill="#226cea"/>
<circle cx="384.4" cy="164.7" r="2.5" fill="#226cea"/>
<circle cx="384.4" cy="165.8" r="2.5" fill="#226cea"/>
<circle cx="384.4" cy="167.0" r="2.5" fill="#226cea"/>
<circle cx="389.1" cy="149.7" r="2.5" fill="#6e53d5"/>
<circle cx="389.1" cy="150.9" r="2.5" fill="#6e53d5"/>
<circle cx="389.1" cy="152.0" r="2.5" fill="#6e53d5"/>
<circle cx="389.1" cy="153.2" r="2.5" fill="#6e53d5"/>
<circle cx="389.1" cy="154.3" r="2.5" fill="#6e53d5"/>
<circle cx="389.1" cy="155.5" r="2.5" fill="#6e53d5"/>
<circle cx="389.1" cy="156.6" r="2.5" fill="#6e53d5"/>
<circle cx="389.1" cy="157.8" r="2.5" fill="#6e53d5"/>
<circle cx="389.1" cy="158.9" r="2.5" fill="#6e53d5"/>
<circle cx="389.1" cy="160.1" r="2.5" fill="#6e53d5"/>
<circle cx="389.1" cy="161.2" r="2.5" fill="#6e53d5"/>
<circle cx="389.1" cy="162.4" r="2.5" fill="#6e53d5"/>
<circle cx="389.1" cy="163.5" r="2.5" fill="#6e53d5"/>
<circle cx="389.1" cy="164.7" r="2.5" fill="#6e53d5"/>
<circle cx="389.1" cy="165.8" r="2.5" fill="#6e53d5"/>
<circle cx="389.1" cy="167.0" r="2.5" fill="#6e53d5"/>
<circle cx="393.9" cy="156.1" r="2.5" fill="#9430b6"/>
<circle cx="393.9" cy="157.3" r="2.5" fill="#9430b6"/>
<circle cx="393.9" cy="158.5" r="2.5" fill="#9430b6"/>
<circle cx="393.9" cy="159.6" r="2.5" fill="#9430b6"/>
<circle cx="393.9" cy="160.8" r="2.5" fill="#9430b6"/>
<circle cx="393.9" cy="162.0" r="2.5" fill="#9430b6"/>
<circle cx="393.9" cy="163.2" r="2.5" fill="#9430b6"/>
<circle cx="394.8" cy="156.1" r="2.5" fill="#9a25ae"/>
<circle cx="394.8" cy="157.3" r="2.5" fill="#9a25ae"/>
<circle cx="394.8" cy="158.5" r="2.5" fill="#9a25ae"/>
<circle cx="394.8" cy="159.6" r="2.5" fill="#9a25ae"/>
<circle cx="394.8" cy="160.8" r="2.5" fill="#9a25ae"/>
<circle cx="394.8" cy="162.0" r="2.5" fill="#9a25ae"/>
<circle cx="394.8" cy="163.2" r="2.5" fill="#9a25ae"/>
<circle cx="395.6" cy="156.1" r="2.5" fill="#a31daa"/>
<circle cx="395.6" cy="157.3" r="2.5" fill="#a31daa"/>
<circle cx="395.6" cy="158.5" r="2.5" fill="#a31daa"/>
<circle cx="395.6" cy="159.6" r="2.5" fill="#a31daa"/>
<circle cx="395.6" cy="160.8" r="2.5" fill="#a31daa"/>
<circle cx="395.6" cy="162.0" r="2.5" fill="#a31daa"/>
<circle cx="395.6" cy="163.2" r="2.5" fill="#a31daa"/>
<circle cx="396.5" cy="156.1" r="2.5" fill="#ac14a6"/>
<circle cx="396.5" cy="157.3" r="2.5" fill="#ac14a6"/>
<circle cx="396.5" cy="158.5" r="2.5" fill="#ac14a6"/>
<circle cx="396.5" cy="159.6" r="2.5" fill="#ac14a6"/>
<circle cx="396.5" cy="160.8" r="2.5" fill="#ac14a6"/>
<circle cx="396.5" cy="162.0" r="2.5" fill="#ac14a6"/>
<circle cx="396.5" cy="163.2" r="2.5" fill="#ac14a6"/>
<circle cx="397.2" cy="153.2" r="2.5" fill="#b30ba3"/>
<circle cx="397.2" cy="154.3" r="2.5" fill="#b30ba3"/>
<circle cx="397.2" cy="155.4" r="2.5" fill="#b30ba3"/>
<circle cx="397.2" cy="156.4" r="2.5" fill="#b30ba3"/>
<circle cx="397.2" cy="157.5" r="2.5" fill="#b30ba3"/>
<circle cx="397.2" cy="158.6" r="2.5" fill="#b30ba3"/>
<circle cx="397.2" cy="159.7" r="2.5" fill="#b30ba3"/>
<circle cx="397.2" cy="160.8" r="2.5" fill="#b30ba3"/>
<circle cx="397.2" cy="161.8" r="2.5" fill="#b30ba3"/>
<circle cx="397.2" cy="162.9" r="2.5" fill="#b30ba3"/>
<circle cx="397.2" cy="164.0" r="2.5" fill="#b30ba3"/>
<circle cx="398.1" cy="153.2" r="2.5" fill="#b801a1"/>
<circle cx="398.1" cy="154.3" r="2.5" fill="#b801a1"/>
<circle cx="398.1" cy="155.4" r="2.5" fill="#b801a1"/>
<circle cx="398.1" cy="156.4" r="2.5" fill="#b801a1"/>
<circle cx="398.1" cy="157.5" r="2.5" fill="#b801a1"/>
<circle cx="398.1" cy="158.6" r="2.5" fill="#b801a1"/>
<circle cx="398.1" cy="159.7" r="2.5" fill="#b801a1"/>
<circle cx="398.1" cy="160.8" r="2.5" fill="#b801a1"/>
<circle cx="398.1" cy="161.8" r="2.5" fill="#b801a1"/>
<circle cx="398.1" cy="162.9" r="2.5" fill="#b801a1"/>
<circle cx="398.1" cy="164.0" r="2.5" fill="#b801a1"/>
<circle cx="399.1" cy="153.2" r="2.5" fill="#be009e"/>
<circle cx="399.1" cy="154.3" r="2.5" fill="#be009e"/>
<circle cx="399.1" cy="155.4" r="2.5" fill="#be009e"/>
<circle cx="399.1" cy="156.4" r="2.5" fill="#be009e"/>
<circle cx="399.1" cy="157.5" r="2.5" fill="#be009e"/>
<circle cx="399.1" cy="158.6" r="2.5" fill="#be009e"/>
<circle cx="399.1" cy="159.7" r="2.5" fill="#be009e"/>
<circle cx="399.1" cy="160.8" r="2.5" fill="#be009e"/>
<circle cx="399.1" cy="161.8" r="2.5" fill="#be009e"/>
<circle cx="399.1" cy="162.9" r="2.5" fill="#be009e"/>
<circle cx="399.1" cy="164.0" r="2.5" fill="#be009e"/>
<circle cx="400.0" cy="153.2" r="2.5" fill="#c3009b"/>
<circle cx="400.0" cy="154.3" r="2.5" fill="#c3009b"/>
<circle cx="400.0" cy="155.4" r="2.5" fill="#c3009b"/>
<circle cx="400.0" cy="156.4" r="2.5" fill="#c3009b"/>
<circle cx="400.0" cy="157.5" r="2.5" fill="#c3009b"/>
<circle cx="400.0" cy="158.6" r="2.5" fill="#c3009b"/>
<circle cx="400.0" cy="159.7" r="2.5" fill="#c3009b"/>
<circle cx="400.0" cy="160.8" r="2.5" fill="#c3009b"/>
<circle cx="400.0" cy="161.8" r="2.5" fill="#c3009b"/>
<circle cx="400.0" cy="162.9" r="2.5" fill="#c3009b"/>
<circle cx="400.0" cy="164.0" r="2.5" fill="#c3009b"/>
<circle cx="401.0" cy="156.0" r="2.5" fill="#c80098"/>
<circle cx="401.0" cy="157.1" r="2.5" fill="#c80098"/>
<circle cx="401.0" cy="158.3" r="2.5" fill="#c80098"/>
<circle cx="401.0" cy="159.4" r="2.5" fill="#c80098"/>
<circle cx="401.0" cy="160.6" r="2.5" fill="#c80098"/>
<circle cx="401.0" cy="161.7" r="2.5" fill="#c80098"/>
<circle cx="401.0" cy="162.9" r="2.5" fill="#c80098"/>
<circle cx="401.0" cy="164.0" r="2.5" fill="#c80098"/>
<circle cx="401.8" cy="156.0" r="2.5" fill="#cc0095"/>
<circle cx="401.8" cy="157.1" r="2.5" fill="#cc0095"/>
<circle cx="401.8" cy="158.3" r="2.5" fill="#cc0095"/>
<circle cx="401.8" cy="159.4" r="2.5" fill="#cc0095"/>
<circle cx="401.8" cy="160.6" r="2.5" fill="#cc0095"/>
<circle cx="401.8" cy="161.7" r="2.5" fill="#cc0095"/>
<circle cx="401.8" cy="162.9" r="2.5" fill="#cc0095"/>
<circle cx="401.8" cy="164.0" r="2.5" fill="#cc0095"/>
<circle cx="402.5" cy="156.0" r="2.5" fill="#d10092"/>
<circle cx="402.5" cy="157.1" r="2.5" fill="#d10092"/>
<circle cx="402.5" cy="158.3" r="2.5" fill="#d10092"/>
<circle cx="402.5" cy="159.4" r="2.5" fill="#d10092"/>
<circle cx="402.5" cy="160.6" r="2.5" fill="#d10092"/>
<circle cx="402.5" cy="161.7" r="2.5" fill="#d10092"/>
<circle cx="402.5" cy="162.9" r="2.5" fill="#d10092"/>
<circle cx="402.5" cy="164.0" r="2.5" fill="#d10092"/>
<circle cx="403.5" cy="153.2" r="2.5" fill="#d8008c"/>
<circle cx="403.5" cy="154.3" r="2.5" fill="#d8008c"/>
<circle cx="403.5" cy="155.4" r="2.5" fill="#d8008c"/>
<circle cx="403.5" cy="156.4" r="2.5" fill="#d8008c"/>
<circle cx="403.5" cy="157.5" r="2.5" fill="#d8008c"/>
<circle cx="403.5" cy="158.6" r="2.5" fill="#d8008c"/>
<circle cx="403.5" cy="159.7" r="2.5" fill="#d8008c"/>
<circle cx="403.5" cy="160.8" r="2.5" fill="#d8008c"/>
<circle cx="403.5" cy="161.8" r="2.5" fill="#d8008c"/>
<circle cx="403.5" cy="162.9" r="2.5" fill="#d8008c"/>
<circle cx="403.5" cy="164.0" r="2.5" fill="#d8008c"/>
<circle cx="404.7" cy="153.2" r="2.5" fill="#e00086"/>
<circle cx="404.7" cy="154.3" r="2.5" fill="#e00086"/>
<circle cx="404.7" cy="155.4" r="2.5" fill="#e00086"/>
<circle cx="404.7" cy="156.4" r="2.5" fill="#e00086"/>
<circle cx="404.7" cy="157.5" r="2.5" fill="#e00086"/>
<circle cx="404.7" cy="158.6" r="2.5" fill="#e00086"/>
<circle cx="404.7" cy="159.7" r="2.5" fill="#e00086"/>
<circle cx="404.7" cy="160.8" r="2.5" fill="#e00086"/>
<circle cx="404.7" cy="161.8" r="2.5" fill="#e00086"/>
<circle cx="404.7" cy="162.9" r="2.5" fill="#e00086"/>
<circle cx="404.7" cy="164.0" r="2.5" fill="#e00086"/>
<circle cx="405.9" cy="153.2" r="2.5" fill="#e7007f"/>
<circle cx="405.9" cy="154.3" r="2.5" fill="#e7007f"/>
<circle cx="405.9" cy="155.4" r="2.5" fill="#e7007f"/>
<circle cx="405.9" cy="156.4" r="2.5" fill="#e7007f"/>
<circle cx="405.9" cy="157.5" r="2.5" fill="#e7007f"/>
<circle cx="405.9" cy="158.6" r="2.5" fill="#e7007f"/>
<circle cx="405.9" cy="159.7" r="2.5" fill="#e7007f"/>
<circle cx="405.9" cy="160.8" r="2.5" fill="#e7007f"/>
<circle cx="405.9" cy="161.8" r="2.5" fill="#e7007f"/>
<circle cx="405.9" cy="162.9" r="2.5" fill="#e7007f"/>
<circle cx="405.9" cy="164.0" r="2.5" fill="#e7007f"/>
<circle cx="407.1" cy="153.2" r="2.5" fill="#ed0077"/>
<circle cx="407.1" cy="154.3" r="2.5" fill="#ed0077"/>
<circle cx="407.1" cy="155.4" r="2.5" fill="#ed0077"/>
<circle cx="407.1" cy="156.4" r="2.5" fill="#ed0077"/>
<circle cx="407.1" cy="157.5" r="2.5" fill="#ed0077"/>
<circle cx="407.1" cy="158.6" r="2.5" fill="#ed0077"/>
<circle cx="407.1" cy="159.7" r="2.5" fill="#ed0077"/>
<circle cx="407.1" cy="160.8" r="2.5" fill="#ed0077"/>
<circle cx="407.1" cy="161.8" r="2.5" fill="#ed0077"/>
<circle cx="407.1" cy="162.9" r="2.5" fill="#ed0077"/>
<circle cx="407.1" cy="164.0" r="2.5" fill="#ed0077"/>
<circle cx="408.3" cy="153.2" r="2.5" fill="#f3006f"/>
<circle cx="408.3" cy="154.3" r="2.5" fill="#f3006f"/>
<circle cx="408.3" cy="155.4" r="2.5" fill="#f3006f"/>
<circle cx="408.3" cy="156.4" r="2.5" fill="#f3006f"/>
<circle cx="408.3" cy="157.5" r="2.5" fill="#f3006f"/>
<circle cx="408.3" cy="158.6" r="2.5" fill="#f3006f"/>
<circle cx="408.3" cy="159.7" r="2.5" fill="#f3006f"/>
<circle cx="408.3" cy="160.8" r="2.5" fill="#f3006f"/>
<circle cx="408.3" cy="161.8" r="2.5" fill="#f3006f"/>
<circle cx="408.3" cy="162.9" r="2.5" fill="#f3006f"/>
<circle cx="408.3" cy="164.0" r="2.5" fill="#f3006f"/>
<circle cx="398.2" cy="153.2" r="2.5" fill="#b901a0"/>
<circle cx="404.7" cy="153.2" r="2.5" fill="#e00086"/>
<circle cx="407.3" cy="153.2" r="2.5" fill="#ee0076"/>
<circle cx="409.5" cy="156.5" r="2.5" fill="#f90067"/>
<circle cx="409.5" cy="157.4" r="2.5" fill="#f90067"/>
<circle cx="409.5" cy="158.4" r="2.5" fill="#f90067"/>
<circle cx="409.5" cy="159.4" r="2.5" fill="#f90067"/>
<circle cx="409.5" cy="160.3" r="2.5" fill="#f90067"/>
<circle cx="410.9" cy="156.5" r="2.5" fill="#fe005d"/>
<circle cx="410.9" cy="157.4" r="2.5" fill="#fe005d"/>
<circle cx="410.9" cy="158.4" r="2.5" fill="#fe005d"/>
<circle cx="410.9" cy="159.4" r="2.5" fill="#fe005d"/>
<circle cx="410.9" cy="160.3" r="2.5" fill="#fe005d"/>
<circle cx="412.2" cy="156.5" r="2.5" fill="#ff0058"/>
<circle cx="412.2" cy="157.4" r="2.5" fill="#ff0058"/>
<circle cx="412.2" cy="158.4" r="2.5" fill="#ff0058"/>
<circle cx="412.2" cy="159.4" r="2.5" fill="#ff0058"/>
<circle cx="412.2" cy="160.3" r="2.5" fill="#ff0058"/>
<circle cx="413.6" cy="156.5" r="2.5" fill="#ff0052"/>
<circle cx="413.6" cy="157.4" r="2.5" fill="#ff0052"/>
<circle cx="413.6" cy="158.4" r="2.5" fill="#ff0052"/>
<circle cx="413.6" cy="159.4" r="2.5" fill="#ff0052"/>
<circle cx="413.6" cy="160.3" r="2.5" fill="#ff0052"/>
<circle cx="415.0" cy="156.5" r="2.5" fill="#ff0051"/>
<circle cx="415.0" cy="157.4" r="2.5" fill="#ff0051"/>
<circle cx="415.0" cy="158.4" r="2.5" fill="#ff0051"/>
<circle cx="415.0" cy="159.4" r="2.5" fill="#ff0051"/>
<circle cx="415.0" cy="160.3" r="2.5" fill="#ff0051"/>
<circle cx="416.5" cy="160.3" r="2.5" fill="#ff0051"/>
<circle cx="417.7" cy="160.3" r="2.5" fill="#ff0051"/>
<circle cx="418.9" cy="160.3" r="2.5" fill="#ff0051"/>
<circle cx="420.0" cy="160.3" r="2.5" fill="#ff0051"/>
<circle cx="421.2" cy="160.3" r="2.5" fill="#ff0051"/>
<circle cx="422.4" cy="160.3" r="2.5" fill="#ff0051"/>
<circle cx="362.6" cy="199.2" r="2.5" fill="#ff0051"/>
<circle cx="365.8" cy="199.2" r="2.5" fill="#ff0051"/>
<circle cx="364.2" cy="198.6" r="2.5" fill="#ff0051"/>
<circle cx="364.2" cy="199.8" r="2.5" fill="#ff0051"/>
<circle cx="380.9" cy="199.2" r="2.5" fill="#a21eaa"/>
<circle cx="381.5" cy="199.2" r="2.5" fill="#a21eaa"/>
<circle cx="392.5" cy="192.9" r="2.5" fill="#007ff7"/>
<circle cx="392.5" cy="194.0" r="2.5" fill="#007ff7"/>
<circle cx="392.5" cy="195.2" r="2.5" fill="#007ff7"/>
<circle cx="392.5" cy="196.3" r="2.5" fill="#007ff7"/>
<circle cx="392.5" cy="197.5" r="2.5" fill="#007ff7"/>
<circle cx="392.5" cy="198.6" r="2.5" fill="#007ff7"/>
<circle cx="392.5" cy="199.8" r="2.5" fill="#007ff7"/>
<circle cx="392.5" cy="200.9" r="2.5" fill="#007ff7"/>
<circle cx="392.5" cy="202.1" r="2.5" fill="#007ff7"/>
<circle cx="392.5" cy="203.2" r="2.5" fill="#007ff7"/>
<circle cx="392.5" cy="204.4" r="2.5" fill="#007ff7"/>
<circle cx="392.5" cy="205.5" r="2.5" fill="#007ff7"/>
<circle cx="397.8" cy="185.6" r="2.5" fill="#0086fa"/>
<circle cx="397.8" cy="186.8" r="2.5" fill="#0086fa"/>
<circle cx="397.8" cy="187.9" r="2.5" fill="#0086fa"/>
<circle cx="397.8" cy="189.1" r="2.5" fill="#0086fa"/>
<circle cx="397.8" cy="190.2" r="2.5" fill="#0086fa"/>
<circle cx="397.8" cy="191.4" r="2.5" fill="#0086fa"/>
<circle cx="397.8" cy="192.6" r="2.5" fill="#0086fa"/>
<circle cx="397.8" cy="193.7" r="2.5" fill="#0086fa"/>
<circle cx="397.8" cy="194.9" r="2.5" fill="#0086fa"/>
<circle cx="397.8" cy="196.0" r="2.5" fill="#0086fa"/>
<circle cx="397.8" cy="197.2" r="2.5" fill="#0086fa"/>
<circle cx="397.8" cy="198.4" r="2.5" fill="#0086fa"/>
<circle cx="397.8" cy="199.5" r="2.5" fill="#0086fa"/>
<circle cx="397.8" cy="200.7" r="2.5" fill="#0086fa"/>
<circle cx="397.8" cy="201.9" r="2.5" fill="#0086fa"/>
<circle cx="397.8" cy="203.0" r="2.5" fill="#0086fa"/>
<circle cx="397.8" cy="204.2" r="2.5" fill="#0086fa"/>
<circle cx="397.8" cy="205.3" r="2.5" fill="#0086fa"/>
<circle cx="397.8" cy="206.5" r="2.5" fill="#0086fa"/>
<circle cx="397.8" cy="207.7" r="2.5" fill="#0086fa"/>
<circle cx="397.8" cy="208.8" r="2.5" fill="#0086fa"/>
<circle cx="397.8" cy="210.0" r="2.5" fill="#0086fa"/>
<circle cx="397.8" cy="211.1" r="2.5" fill="#0086fa"/>
<circle cx="397.8" cy="212.3" r="2.5" fill="#0086fa"/>
<circle cx="373.6" cy="238.0" r="2.5" fill="#0086fa"/>
<circle cx="375.0" cy="238.0" r="2.5" fill="#0086fa"/>
<circle cx="389.4" cy="224.2" r="2.5" fill="#0086fa"/>
<circle cx="389.4" cy="225.4" r="2.5" fill="#0086fa"/>
<circle cx="389.4" cy="226.6" r="2.5" fill="#0086fa"/>
<circle cx="389.4" cy="227.8" r="2.5" fill="#0086fa"/>
<circle cx="389.4" cy="228.9" r="2.5" fill="#0086fa"/>
<circle cx="389.4" cy="230.1" r="2.5" fill="#0086fa"/>
<circle cx="389.4" cy="231.3" r="2.5" fill="#0086fa"/>
<circle cx="389.4" cy="232.5" r="2.5" fill="#0086fa"/>
<circle cx="389.4" cy="233.7" r="2.5" fill="#0086fa"/>
<circle cx="389.4" cy="234.9" r="2.5" fill="#0086fa"/>
<circle cx="389.4" cy="236.1" r="2.5" fill="#0086fa"/>
<circle cx="389.4" cy="237.3" r="2.5" fill="#0086fa"/>
<circle cx="389.4" cy="238.4" r="2.5" fill="#0086fa"/>
<circle cx="389.4" cy="239.6" r="2.5" fill="#0086fa"/>
<circle cx="389.4" cy="240.8" r="2.5" fill="#0086fa"/>
<circle cx="389.4" cy="242.0" r="2.5" fill="#0086fa"/>
<circle cx="389.4" cy="243.2" r="2.5" fill="#0086fa"/>
<circle cx="389.4" cy="244.4" r="2.5" fill="#0086fa"/>
<circle cx="389.4" cy="245.6" r="2.5" fill="#0086fa"/>
<circle cx="389.4" cy="246.8" r="2.5" fill="#0086fa"/>
<circle cx="389.4" cy="247.9" r="2.5" fill="#0086fa"/>
<circle cx="389.4" cy="249.1" r="2.5" fill="#0086fa"/>
<circle cx="389.4" cy="250.3" r="2.5" fill="#0086fa"/>
<circle cx="389.4" cy="251.5" r="2.5" fill="#0086fa"/>
<circle cx="393.1" cy="236.5" r="2.5" fill="#3769e8"/>
<circle cx="393.1" cy="237.5" r="2.5" fill="#3769e8"/>
<circle cx="393.1" cy="238.5" r="2.5" fill="#3769e8"/>
<circle cx="393.1" cy="239.5" r="2.5" fill="#3769e8"/>
<circle cx="405.2" cy="235.5" r="2.5" fill="#ff0051"/>
<circle cx="405.2" cy="236.5" r="2.5" fill="#ff0051"/>
<circle cx="405.2" cy="237.5" r="2.5" fill="#ff0051"/>
<circle cx="405.2" cy="238.5" r="2.5" fill="#ff0051"/>
<circle cx="405.2" cy="239.5" r="2.5" fill="#ff0051"/>
<circle cx="405.2" cy="240.5" r="2.5" fill="#ff0051"/>
<circle cx="404.5" cy="238.0" r="2.5" fill="#ff0051"/>
<circle cx="406.0" cy="238.0" r="2.5" fill="#ff0051"/>
<circle cx="383.0" cy="265.5" r="2.5" fill="#0086fa"/>
<circle cx="383.0" cy="266.7" r="2.5" fill="#0086fa"/>
<circle cx="383.0" cy="267.8" r="2.5" fill="#0086fa"/>
<circle cx="383.0" cy="269.0" r="2.5" fill="#0086fa"/>
<circle cx="383.0" cy="270.1" r="2.5" fill="#0086fa"/>
<circle cx="383.0" cy="271.3" r="2.5" fill="#0086fa"/>
<circle cx="383.0" cy="272.4" r="2.5" fill="#0086fa"/>
<circle cx="383.0" cy="273.6" r="2.5" fill="#0086fa"/>
<circle cx="383.0" cy="274.7" r="2.5" fill="#0086fa"/>
<circle cx="383.0" cy="275.9" r="2.5" fill="#0086fa"/>
<circle cx="383.0" cy="277.0" r="2.5" fill="#0086fa"/>
<circle cx="383.0" cy="278.2" r="2.5" fill="#0086fa"/>
<circle cx="383.0" cy="279.3" r="2.5" fill="#0086fa"/>
<circle cx="383.0" cy="280.5" r="2.5" fill="#0086fa"/>
<circle cx="383.0" cy="281.6" r="2.5" fill="#0086fa"/>
<circle cx="383.0" cy="282.8" r="2.5" fill="#0086fa"/>
<circle cx="383.0" cy="283.9" r="2.5" fill="#0086fa"/>
<circle cx="383.0" cy="285.1" r="2.5" fill="#0086fa"/>
<circle cx="383.0" cy="286.2" r="2.5" fill="#0086fa"/>
<circle cx="383.0" cy="287.4" r="2.5" fill="#0086fa"/>
<circle cx="390.8" cy="264.5" r="2.5" fill="#9b23ad"/>
<circle cx="390.8" cy="265.7" r="2.5" fill="#9b23ad"/>
<circle cx="390.8" cy="266.9" r="2.5" fill="#9b23ad"/>
<circle cx="390.8" cy="268.1" r="2.5" fill="#9b23ad"/>
<circle cx="390.8" cy="269.3" r="2.5" fill="#9b23ad"/>
<circle cx="390.8" cy="270.4" r="2.5" fill="#9b23ad"/>
<circle cx="390.8" cy="271.6" r="2.5" fill="#9b23ad"/>
<circle cx="390.8" cy="272.8" r="2.5" fill="#9b23ad"/>
<circle cx="390.8" cy="274.0" r="2.5" fill="#9b23ad"/>
<circle cx="390.8" cy="275.2" r="2.5" fill="#9b23ad"/>
<circle cx="390.8" cy="276.4" r="2.5" fill="#9b23ad"/>
<circle cx="390.8" cy="277.6" r="2.5" fill="#9b23ad"/>
<circle cx="390.8" cy="278.8" r="2.5" fill="#9b23ad"/>
<circle cx="390.8" cy="280.0" r="2.5" fill="#9b23ad"/>
<circle cx="390.8" cy="281.2" r="2.5" fill="#9b23ad"/>
<circle cx="390.8" cy="282.4" r="2.5" fill="#9b23ad"/>
<circle cx="390.8" cy="283.5" r="2.5" fill="#9b23ad"/>
<circle cx="390.8" cy="284.7" r="2.5" fill="#9b23ad"/>
<circle cx="390.8" cy="285.9" r="2.5" fill="#9b23ad"/>
<circle cx="390.8" cy="287.1" r="2.5" fill="#9b23ad"/>
<circle cx="390.8" cy="288.3" r="2.5" fill="#9b23ad"/>
<circle cx="392.9" cy="265.0" r="2.5" fill="#952eb5"/>
<circle cx="392.9" cy="266.1" r="2.5" fill="#952eb5"/>
<circle cx="392.9" cy="267.3" r="2.5" fill="#952eb5"/>
<circle cx="392.9" cy="268.4" r="2.5" fill="#952eb5"/>
<circle cx="392.9" cy="269.6" r="2.5" fill="#952eb5"/>
<circle cx="392.9" cy="270.7" r="2.5" fill="#952eb5"/>
<circle cx="392.9" cy="271.8" r="2.5" fill="#952eb5"/>
<circle cx="392.9" cy="273.0" r="2.5" fill="#952eb5"/>
<circle cx="392.9" cy="274.1" r="2.5" fill="#952eb5"/>
<circle cx="392.9" cy="275.3" r="2.5" fill="#952eb5"/>
<circle cx="392.9" cy="276.4" r="2.5" fill="#952eb5"/>
<circle cx="392.9" cy="277.5" r="2.5" fill="#952eb5"/>
<circle cx="392.9" cy="278.7" r="2.5" fill="#952eb5"/>
<circle cx="392.9" cy="279.8" r="2.5" fill="#952eb5"/>
<circle cx="392.9" cy="281.0" r="2.5" fill="#952eb5"/>
<circle cx="392.9" cy="282.1" r="2.5" fill="#952eb5"/>
<circle cx="392.9" cy="283.2" r="2.5" fill="#952eb5"/>
<circle cx="392.9" cy="284.4" r="2.5" fill="#952eb5"/>
<circle cx="392.9" cy="285.5" r="2.5" fill="#952eb5"/>
<circle cx="392.9" cy="286.7" r="2.5" fill="#952eb5"/>
<circle cx="392.9" cy="287.8" r="2.5" fill="#952eb5"/>
<circle cx="401.1" cy="264.2" r="2.5" fill="#ff0051"/>
<circle cx="401.1" cy="265.4" r="2.5" fill="#ff0051"/>
<circle cx="401.1" cy="266.5" r="2.5" fill="#ff0051"/>
<circle cx="401.1" cy="267.7" r="2.5" fill="#ff0051"/>
<circle cx="401.1" cy="268.8" r="2.5" fill="#ff0051"/>
<circle cx="401.1" cy="270.0" r="2.5" fill="#ff0051"/>
<circle cx="401.1" cy="271.1" r="2.5" fill="#ff0051"/>
<circle cx="401.1" cy="272.3" r="2.5" fill="#ff0051"/>
<circle cx="401.1" cy="273.4" r="2.5" fill="#ff0051"/>
<circle cx="401.1" cy="274.6" r="2.5" fill="#ff0051"/>
<circle cx="401.1" cy="275.7" r="2.5" fill="#ff0051"/>
<circle cx="401.1" cy="276.9" r="2.5" fill="#ff0051"/>
<circle cx="401.1" cy="278.1" r="2.5" fill="#ff0051"/>
<circle cx="401.1" cy="279.2" r="2.5" fill="#ff0051"/>
<circle cx="401.1" cy="280.4" r="2.5" fill="#ff0051"/>
<circle cx="401.1" cy="281.5" r="2.5" fill="#ff0051"/>
<circle cx="401.1" cy="282.7" r="2.5" fill="#ff0051"/>
<circle cx="401.1" cy="283.8" r="2.5" fill="#ff0051"/>
<circle cx="401.1" cy="285.0" r="2.5" fill="#ff0051"/>
<circle cx="401.1" cy="286.1" r="2.5" fill="#ff0051"/>
<circle cx="401.1" cy="287.3" r="2.5" fill="#ff0051"/>
<circle cx="401.1" cy="288.4" r="2.5" fill="#ff0051"/>
<circle cx="401.1" cy="289.6" r="2.5" fill="#ff0051"/>
<circle cx="385.0" cy="315.8" r="2.5" fill="#0086fa"/>
<circle cx="392.1" cy="302.3" r="2.5" fill="#0086fa"/>
<circle cx="392.1" cy="303.5" r="2.5" fill="#0086fa"/>
<circle cx="392.1" cy="304.7" r="2.5" fill="#0086fa"/>
<circle cx="392.1" cy="305.8" r="2.5" fill="#0086fa"/>
<circle cx="392.1" cy="307.0" r="2.5" fill="#0086fa"/>
<circle cx="392.1" cy="308.2" r="2.5" fill="#0086fa"/>
<circle cx="392.1" cy="309.4" r="2.5" fill="#0086fa"/>
<circle cx="392.1" cy="310.6" r="2.5" fill="#0086fa"/>
<circle cx="392.1" cy="311.8" r="2.5" fill="#0086fa"/>
<circle cx="392.1" cy="312.9" r="2.5" fill="#0086fa"/>
<circle cx="392.1" cy="314.1" r="2.5" fill="#0086fa"/>
<circle cx="392.1" cy="315.3" r="2.5" fill="#0086fa"/>
<circle cx="392.1" cy="316.5" r="2.5" fill="#0086fa"/>
<circle cx="392.1" cy="317.7" r="2.5" fill="#0086fa"/>
<circle cx="392.1" cy="318.9" r="2.5" fill="#0086fa"/>
<circle cx="392.1" cy="320.0" r="2.5" fill="#0086fa"/>
<circle cx="392.1" cy="321.2" r="2.5" fill="#0086fa"/>
<circle cx="392.1" cy="322.4" r="2.5" fill="#0086fa"/>
<circle cx="392.1" cy="323.6" r="2.5" fill="#0086fa"/>
<circle cx="392.1" cy="324.8" r="2.5" fill="#0086fa"/>
<circle cx="392.1" cy="326.0" r="2.5" fill="#0086fa"/>
<circle cx="392.1" cy="327.1" r="2.5" fill="#0086fa"/>
<circle cx="392.1" cy="328.3" r="2.5" fill="#0086fa"/>
<circle cx="392.1" cy="329.5" r="2.5" fill="#0086fa"/>
<circle cx="397.9" cy="315.9" r="2.5" fill="#ff0051"/>
<circle cx="399.4" cy="315.9" r="2.5" fill="#ff0051"/>
<circle cx="398.7" cy="314.5" r="2.5" fill="#ff0051"/>
<circle cx="398.7" cy="317.2" r="2.5" fill="#ff0051"/>
<circle cx="393.2" cy="342.1" r="2.5" fill="#972bb2"/>
<circle cx="393.2" cy="343.3" r="2.5" fill="#972bb2"/>
<circle cx="393.2" cy="344.5" r="2.5" fill="#972bb2"/>
<circle cx="393.2" cy="345.7" r="2.5" fill="#972bb2"/>
<circle cx="393.2" cy="346.9" r="2.5" fill="#972bb2"/>
<circle cx="393.2" cy="348.1" r="2.5" fill="#972bb2"/>
<circle cx="393.2" cy="349.3" r="2.5" fill="#972bb2"/>
<circle cx="393.2" cy="350.5" r="2.5" fill="#972bb2"/>
<circle cx="393.2" cy="351.7" r="2.5" fill="#972bb2"/>
<circle cx="393.2" cy="352.9" r="2.5" fill="#972bb2"/>
<circle cx="393.2" cy="354.1" r="2.5" fill="#972bb2"/>
<circle cx="393.2" cy="355.2" r="2.5" fill="#972bb2"/>
<circle cx="393.2" cy="356.4" r="2.5" fill="#972bb2"/>
<circle cx="393.2" cy="357.6" r="2.5" fill="#972bb2"/>
<circle cx="393.2" cy="358.8" r="2.5" fill="#972bb2"/>
<circle cx="393.2" cy="360.0" r="2.5" fill="#972bb2"/>
<circle cx="393.2" cy="361.2" r="2.5" fill="#972bb2"/>
<circle cx="393.2" cy="362.4" r="2.5" fill="#972bb2"/>
<circle cx="393.2" cy="363.6" r="2.5" fill="#972bb2"/>
<circle cx="393.2" cy="364.8" r="2.5" fill="#972bb2"/>
<circle cx="393.2" cy="366.0" r="2.5" fill="#972bb2"/>
<circle cx="390.6" cy="352.3" r="2.5" fill="#ff0051"/>
<circle cx="390.6" cy="356.3" r="2.5" fill="#ff0051"/>
<circle cx="389.3" cy="354.3" r="2.5" fill="#ff0051"/>
<circle cx="391.8" cy="354.3" r="2.5" fill="#ff0051"/>
<circle cx="396.4" cy="352.6" r="2.5" fill="#0086fa"/>
<circle cx="396.4" cy="356.0" r="2.5" fill="#0086fa"/>
<circle cx="396.6" cy="354.3" r="2.5" fill="#0086fa"/>
<circle cx="393.1" cy="379.3" r="2.5" fill="#ff0051"/>
<circle cx="393.1" cy="380.5" r="2.5" fill="#ff0051"/>
<circle cx="393.1" cy="381.7" r="2.5" fill="#ff0051"/>
<circle cx="393.1" cy="382.9" r="2.5" fill="#ff0051"/>
<circle cx="393.1" cy="384.1" r="2.5" fill="#ff0051"/>
<circle cx="393.1" cy="385.2" r="2.5" fill="#ff0051"/>
<circle cx="393.1" cy="386.4" r="2.5" fill="#ff0051"/>
<circle cx="393.1" cy="387.6" r="2.5" fill="#ff0051"/>
<circle cx="393.1" cy="388.8" r="2.5" fill="#ff0051"/>
<circle cx="393.1" cy="390.0" r="2.5" fill="#ff0051"/>
<circle cx="393.1" cy="391.2" r="2.5" fill="#ff0051"/>
<circle cx="393.1" cy="392.4" r="2.5" fill="#ff0051"/>
<circle cx="393.1" cy="393.6" r="2.5" fill="#ff0051"/>
<circle cx="393.1" cy="394.7" r="2.5" fill="#ff0051"/>
<circle cx="393.1" cy="395.9" r="2.5" fill="#ff0051"/>
<circle cx="393.1" cy="397.1" r="2.5" fill="#ff0051"/>
<circle cx="393.1" cy="398.3" r="2.5" fill="#ff0051"/>
<circle cx="393.1" cy="399.5" r="2.5" fill="#ff0051"/>
<circle cx="393.1" cy="400.7" r="2.5" fill="#ff0051"/>
<circle cx="393.1" cy="401.9" r="2.5" fill="#ff0051"/>
<circle cx="393.1" cy="403.1" r="2.5" fill="#ff0051"/>
<circle cx="393.1" cy="404.2" r="2.5" fill="#ff0051"/>
<circle cx="393.1" cy="405.4" r="2.5" fill="#ff0051"/>
<circle cx="393.1" cy="406.6" r="2.5" fill="#ff0051"/>
<circle cx="393.1" cy="407.8" r="2.5" fill="#ff0051"/>
<path d="M390.4,395.3 L393.1,395.8 L395.8,395.3 L395.8,397.1 L393.1,396.6 L390.4,397.1 Z" fill="#6359da"/>
</g>
<g style="font-size:16.5px"><text transform="translate(164.4,50.00) scale(1,1.075)" text-anchor="end">Not depression</text><text transform="translate(164.4,88.80) scale(1,1.075)" text-anchor="end">Severe depression</text><text transform="translate(164.4,127.60) scale(1,1.075)" text-anchor="end">Q10: suicidal_thoughts</text><text transform="translate(164.4,166.40) scale(1,1.075)" text-anchor="end">Moderate depression</text><text transform="translate(164.4,205.20) scale(1,1.075)" text-anchor="end">Q7: PTSD_diagnosis</text><text transform="translate(164.4,244.00) scale(1,1.075)" text-anchor="end">Q5: loss_of_interest</text><text transform="translate(164.4,282.80) scale(1,1.075)" text-anchor="end">Q6: depression_history</text><text transform="translate(164.4,321.60) scale(1,1.075)" text-anchor="end">Q4: concentration_issues</text><text transform="translate(164.4,360.40) scale(1,1.075)" text-anchor="end">Q2: mood_changes</text><text transform="translate(164.4,399.20) scale(1,1.075)" text-anchor="end">LSTM extracted 1</text></g>
<g style="font-size:14px"><line x1="245.8" y1="433" x2="245.8" y2="439.5" stroke="#333" stroke-width="1.6"/><text transform="translate(245.80,454.1) scale(1,1.03)" text-anchor="middle">−1.0</text><line x1="319.4" y1="433" x2="319.4" y2="439.5" stroke="#333" stroke-width="1.6"/><text transform="translate(319.40,454.1) scale(1,1.03)" text-anchor="middle">−0.5</text><line x1="393.0" y1="433" x2="393.0" y2="439.5" stroke="#333" stroke-width="1.6"/><text transform="translate(393.00,454.1) scale(1,1.03)" text-anchor="middle">0.0</text><line x1="466.6" y1="433" x2="466.6" y2="439.5" stroke="#333" stroke-width="1.6"/><text transform="translate(466.60,454.1) scale(1,1.03)" text-anchor="middle">0.5</text><line x1="540.2" y1="433" x2="540.2" y2="439.5" stroke="#333" stroke-width="1.6"/><text transform="translate(540.20,454.1) scale(1,1.03)" text-anchor="middle">1.0</text></g>
<text transform="translate(398.2,473.7) scale(1,1.07)" text-anchor="middle" style="font-size:16.5px">SHAP value (impact on model output)</text>
<rect x="626.4" y="4.7" width="6.6" height="428" fill="url(#cb)"/>
<text x="637" y="9.8" style="font-size:13.6px">High</text>
<text x="637.4" y="437.5" style="font-size:13.6px">Low</text>
<text transform="translate(673.5,216) rotate(-90)" text-anchor="middle" style="font-size:14.4px">Feature value</text>
</svg>
</body></html>
